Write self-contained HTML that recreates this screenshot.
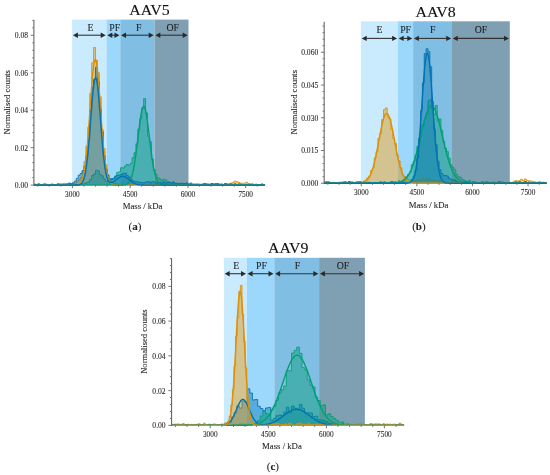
<!DOCTYPE html>
<html><head><meta charset="utf-8"><title>AAV mass photometry</title>
<style>html,body{margin:0;padding:0;background:#fff;}body{width:550px;height:475px;overflow:hidden;}svg{display:block;}</style>
</head><body>
<svg width="550" height="475" viewBox="0 0 550 475" font-family="'Liberation Serif', 'DejaVu Serif', serif">
<style>.t{fill:#1e1e1e;stroke:#1e1e1e;stroke-width:0.08px;}.tt{fill:#111;stroke:#111;stroke-width:0.12px;}</style>
<rect width="550" height="475" fill="#fff"/>
<rect x="72.1" y="19.6" width="34.4" height="165.5" fill="#caebfd"/>
<rect x="106.5" y="19.6" width="13.75" height="165.5" fill="#9bd8fc"/>
<rect x="120.25" y="19.6" width="34.25" height="165.5" fill="#80bee3"/>
<rect x="154.5" y="19.6" width="34" height="165.5" fill="#7f9fb3"/>
<path d="M33.9,185.1V185.08H35.83V184.64H37.75V184.49H39.68V184.94H41.6V184.48H43.53V184.91H45.45V185.07H47.38V184.95H49.3V184.86H51.23V183.85H53.16V185.07H55.08V185.08H57.01V184.61H58.93V183.67H60.86V183.8H62.78V184.23H64.71V184.86H66.63V183.76H68.56V183.81H70.48V184.1H72.41V183.47H74.34V183.26H76.26V181H78.19V179.81H80.11V177.32H82.04V171.23H83.96V161.4H85.89V146.25H87.81V127.03H89.74V93.48H91.66V62.8H93.59V47.51H95.52V60.05H97.44V72.6H99.37V96.84H101.29V129.46H103.22V148.77H105.14V164.57H107.07V174.72H108.99V180.41H110.92V181.61H112.85V183.48H114.77V183.8H116.7V184H118.62V184.43H120.55V184.85H122.47V183.58H124.4V185.04H126.32V184.91H128.25V184.64H130.17V185.09H132.1V185.06H134.03V184.14H135.95V184.18H137.88V184.49H139.8V183.88H141.73V184.25H143.65V184.97H145.58V184.48H147.5V184.93H149.43V184.26H151.36V184.88H153.28V185.06H155.21V183.95H157.13V184.39H159.06V184.27H160.98V184.63H162.91V184.18H164.83V184.8H166.76V184.62H168.69V185.09H170.61V184.64H172.54V184.11H174.46V184.35H176.39V184.13H178.31V184.73H180.24V183.94H182.16V185.08H184.09V183.95H186.01V184.89H187.94V185.09H189.87V184.53H191.79V184.79H193.72V184.83H195.64V184.01H197.57V185.07H199.49V184.53H201.42V184.84H203.34V184.68H205.27V184.73H207.19V185.07H209.12V184.71H211.05V183.99H212.97V185.06H214.9V185.1H216.82V185.09H218.75V184.78H220.67V183.67H222.6V185.07H224.52V183.52H226.45V184.35H228.38V184.21H230.3V183.13H232.23V182.42H234.15V181.1H236.08V181.7H238V182.5H239.93V183.27H241.85V183.15H243.78V183.29H245.7V182.31H247.63V183.5H249.56V184.12H251.48V183.68H253.41V185.09H255.33V185.06H257.26V184.9H259.18V184.71H261.11V185.09H263.03V185.1H264.96V185.1" fill="#de8f05" fill-opacity="0.44" stroke="#de8f05" stroke-width="0.85"/>
<path d="M33.9,185.1V184.12H35.83V185.08H37.75V183.68H39.68V185.03H41.6V184.96H43.53V184.59H45.45V184.96H47.38V184.88H49.3V185.08H51.23V184.87H53.16V185.1H55.08V185.02H57.01V183.86H58.93V184.98H60.86V184.99H62.78V184.41H64.71V183.93H66.63V184.97H68.56V184.89H70.48V184.34H72.41V184.16H74.34V184.54H76.26V185.05H78.19V185.03H80.11V184.17H82.04V184.15H83.96V183.35H85.89V182.64H87.81V182.15H89.74V179.54H91.66V175.54H93.59V173.99H95.52V170.26H97.44V170.78H99.37V174.23H101.29V175.74H103.22V178.77H105.14V181.26H107.07V181.3H108.99V180.22H110.92V179.11H112.85V178.26H114.77V176.14H116.7V172.45H118.62V171.88H120.55V167.73H122.47V167.98H124.4V166.02H126.32V164.46H128.25V165.29H130.17V163.43H132.1V157.79H134.03V152.73H135.95V143.79H137.88V129.02H139.8V118.96H141.73V107.88H143.65V98.61H145.58V113.03H147.5V136.16H149.43V141.64H151.36V159.03H153.28V169.7H155.21V174.25H157.13V177.79H159.06V178.91H160.98V180.33H162.91V179.33H164.83V179.78H166.76V181.59H168.69V181.99H170.61V182.66H172.54V181.83H174.46V183.71H176.39V183.02H178.31V183.82H180.24V183.17H182.16V184.7H184.09V183.58H186.01V184.08H187.94V184.53H189.87V184.31H191.79V184.3H193.72V184.79H195.64V184.49H197.57V185.02H199.49V185.1H201.42V184.41H203.34V184.76H205.27V183.87H207.19V185H209.12V184.1H211.05V183.64H212.97V183.89H214.9V183.71H216.82V185.06H218.75V185.06H220.67V185.02H222.6V184.9H224.52V185.08H226.45V185.07H228.38V185.1H230.3V183.8H232.23V184.9H234.15V184.51H236.08V184.79H238V184.27H239.93V184.13H241.85V184.88H243.78V184.67H245.7V185.09H247.63V184.98H249.56V185.03H251.48V184.96H253.41V184.94H255.33V184.6H257.26V184.93H259.18V184.94H261.11V184.07H263.03V185.1H264.96V185.1" fill="#029e73" fill-opacity="0.44" stroke="#029e73" stroke-width="0.85"/>
<path d="M33.9,185.1V184.99H35.83V185H37.75V184.92H39.68V184.95H41.6V184.63H43.53V183.85H45.45V184.18H47.38V184.88H49.3V184.94H51.23V184.89H53.16V184.61H55.08V184.65H57.01V184.15H58.93V184.76H60.86V184.68H62.78V184H64.71V184.18H66.63V184.12H68.56V182.94H70.48V183.65H72.41V182.75H74.34V181.13H76.26V178.41H78.19V175.31H80.11V173.52H82.04V170.63H83.96V165.98H85.89V155.78H87.81V139.11H89.74V110.36H91.66V86.98H93.59V79.4H95.52V67.3H97.44V82.18H99.37V109.26H101.29V131.74H103.22V155.68H105.14V168.82H107.07V175.18H108.99V178.73H110.92V178.69H112.85V178.54H114.77V176.23H116.7V175.49H118.62V174.89H120.55V174.29H122.47V173.37H124.4V173.29H126.32V175.4H128.25V176.97H130.17V179.66H132.1V180.88H134.03V181.67H135.95V181.73H137.88V182.07H139.8V182.48H141.73V182.81H143.65V182.66H145.58V181.95H147.5V181.63H149.43V182.85H151.36V181.75H153.28V181.8H155.21V182.87H157.13V182.81H159.06V182.58H160.98V183.1H162.91V181.83H164.83V183.25H166.76V182.6H168.69V182.52H170.61V183.26H172.54V182.28H174.46V183.42H176.39V183.65H178.31V183.6H180.24V183.51H182.16V183.21H184.09V183.69H186.01V182.94H187.94V183.97H189.87V183.02H191.79V184.12H193.72V184.08H195.64V184.23H197.57V184H199.49V184.28H201.42V184.24H203.34V183.39H205.27V184.06H207.19V184.07H209.12V184.43H211.05V183.71H212.97V184.32H214.9V183.92H216.82V183.5H218.75V184.19H220.67V184.54H222.6V184.72H224.52V183.62H226.45V184.03H228.38V183.96H230.3V184.87H232.23V184.66H234.15V183.81H236.08V184.88H238V184H239.93V184.59H241.85V184.94H243.78V184.81H245.7V185.03H247.63V184.36H249.56V184.27H251.48V185.05H253.41V184.93H255.33V184.18H257.26V185.01H259.18V184.65H261.11V184.11H263.03V184.59H264.96V185.1" fill="#0173b2" fill-opacity="0.44" stroke="#0173b2" stroke-width="0.85"/>
<path d="M33.9,185.1L34.48,185.1L35.06,185.1L35.64,185.1L36.22,185.1L36.8,185.1L37.37,185.1L37.95,185.1L38.53,185.1L39.11,185.1L39.69,185.1L40.27,185.1L40.85,185.1L41.43,185.1L42.01,185.1L42.59,185.1L43.17,185.1L43.74,185.1L44.32,185.1L44.9,185.1L45.48,185.1L46.06,185.1L46.64,185.1L47.22,185.1L47.8,185.1L48.38,185.1L48.96,185.1L49.54,185.1L50.11,185.1L50.69,185.1L51.27,185.1L51.85,185.1L52.43,185.1L53.01,185.1L53.59,185.1L54.17,185.1L54.75,185.1L55.33,185.1L55.91,185.1L56.48,185.1L57.06,185.1L57.64,185.1L58.22,185.1L58.8,185.1L59.38,185.1L59.96,185.1L60.54,185.1L61.12,185.1L61.7,185.1L62.28,185.1L62.85,185.1L63.43,185.1L64.01,185.1L64.59,185.1L65.17,185.1L65.75,185.1L66.33,185.1L66.91,185.1L67.49,185.1L68.07,185.1L68.65,185.1L69.22,185.1L69.8,185.1L70.38,185.1L70.96,185.1L71.54,185.09L72.12,185.09L72.7,185.09L73.28,185.08L73.86,185.06L74.44,185.05L75.02,185.02L75.6,184.98L76.17,184.91L76.75,184.83L77.33,184.7L77.91,184.52L78.49,184.28L79.07,183.95L79.65,183.5L80.23,182.9L80.81,182.12L81.39,181.1L81.97,179.81L82.54,178.17L83.12,176.14L83.7,173.66L84.28,170.65L84.86,167.07L85.44,162.88L86.02,158.03L86.6,152.52L87.18,146.35L87.76,139.56L88.34,132.21L88.91,124.4L89.49,116.28L90.07,107.99L90.65,99.72L91.23,91.7L91.81,84.13L92.39,77.24L92.97,71.25L93.55,66.35L94.13,62.71L94.71,60.46L95.28,59.68L95.86,60.38L96.44,62.56L97.02,66.12L97.6,70.95L98.18,76.89L98.76,83.73L99.34,91.27L99.92,99.28L100.5,107.54L101.08,115.83L101.65,123.97L102.23,131.8L102.81,139.17L103.39,146L103.97,152.2L104.55,157.75L105.13,162.63L105.71,166.86L106.29,170.47L106.87,173.51L107.45,176.02L108.02,178.07L108.6,179.73L109.18,181.04L109.76,182.07L110.34,182.86L110.92,183.47L111.5,183.93L112.08,184.26L112.66,184.51L113.24,184.69L113.82,184.82L114.39,184.91L114.97,184.97L115.55,185.02L116.13,185.04L116.71,185.06L117.29,185.08L117.87,185.09L118.45,185.09L119.03,185.09L119.61,185.1L120.19,185.1L120.76,185.1L121.34,185.1L121.92,185.1L122.5,185.1L123.08,185.1L123.66,185.1L124.24,185.1L124.82,185.1L125.4,185.1L125.98,185.1L126.56,185.1L127.13,185.1L127.71,185.1L128.29,185.1L128.87,185.1L129.45,185.1L130.03,185.1L130.61,185.1L131.19,185.1L131.77,185.1L132.35,185.1L132.93,185.1L133.5,185.1L134.08,185.1L134.66,185.1L135.24,185.1L135.82,185.1L136.4,185.1L136.98,185.1L137.56,185.1L138.14,185.1L138.72,185.1L139.3,185.1L139.87,185.1L140.45,185.1L141.03,185.1L141.61,185.1L142.19,185.1L142.77,185.1L143.35,185.1L143.93,185.1L144.51,185.1L145.09,185.1L145.67,185.1L146.24,185.1L146.82,185.1L147.4,185.1L147.98,185.1L148.56,185.1L149.14,185.1L149.72,185.1L150.3,185.1L150.88,185.1L151.46,185.1L152.04,185.1L152.62,185.1L153.19,185.1L153.77,185.1L154.35,185.1L154.93,185.1L155.51,185.1L156.09,185.1L156.67,185.1L157.25,185.1L157.83,185.1L158.41,185.1L158.99,185.1L159.56,185.1L160.14,185.1L160.72,185.1L161.3,185.1L161.88,185.1L162.46,185.1L163.04,185.1L163.62,185.1L164.2,185.1L164.78,185.1L165.36,185.1L165.93,185.1L166.51,185.1L167.09,185.1L167.67,185.1L168.25,185.1L168.83,185.1L169.41,185.1L169.99,185.1L170.57,185.1L171.15,185.1L171.73,185.1L172.3,185.1L172.88,185.1L173.46,185.1L174.04,185.1L174.62,185.1L175.2,185.1L175.78,185.1L176.36,185.1L176.94,185.1L177.52,185.1L178.1,185.1L178.67,185.1L179.25,185.1L179.83,185.1L180.41,185.1L180.99,185.1L181.57,185.1L182.15,185.1L182.73,185.1L183.31,185.1L183.89,185.1L184.47,185.1L185.04,185.1L185.62,185.1L186.2,185.1L186.78,185.1L187.36,185.1L187.94,185.1L188.52,185.1L189.1,185.1L189.68,185.1L190.26,185.1L190.84,185.1L191.41,185.1L191.99,185.1L192.57,185.1L193.15,185.1L193.73,185.1L194.31,185.1L194.89,185.1L195.47,185.1L196.05,185.1L196.63,185.1L197.21,185.1L197.78,185.1L198.36,185.1L198.94,185.1L199.52,185.1L200.1,185.1L200.68,185.1L201.26,185.1L201.84,185.1L202.42,185.1L203,185.1L203.58,185.1L204.15,185.1L204.73,185.1L205.31,185.1L205.89,185.1L206.47,185.1L207.05,185.1L207.63,185.1L208.21,185.1L208.79,185.1L209.37,185.1L209.95,185.1L210.52,185.1L211.1,185.1L211.68,185.1L212.26,185.1L212.84,185.1L213.42,185.1L214,185.1L214.58,185.1L215.16,185.1L215.74,185.1L216.32,185.1L216.89,185.1L217.47,185.1L218.05,185.1L218.63,185.1L219.21,185.1L219.79,185.1L220.37,185.1L220.95,185.1L221.53,185.1L222.11,185.1L222.69,185.1L223.26,185.1L223.84,185.1L224.42,185.1L225,185.1L225.58,185.1L226.16,185.1L226.74,185.1L227.32,185.1L227.9,185.1L228.48,185.1L229.06,185.1L229.64,185.1L230.21,185.1L230.79,185.1L231.37,185.1L231.95,185.1L232.53,185.1L233.11,185.1L233.69,185.1L234.27,185.1L234.85,185.1L235.43,185.1L236.01,185.1L236.58,185.1L237.16,185.1L237.74,185.1L238.32,185.1L238.9,185.1L239.48,185.1L240.06,185.1L240.64,185.1L241.22,185.1L241.8,185.1L242.38,185.1L242.95,185.1L243.53,185.1L244.11,185.1L244.69,185.1L245.27,185.1L245.85,185.1L246.43,185.1L247.01,185.1L247.59,185.1L248.17,185.1L248.75,185.1L249.32,185.1L249.9,185.1L250.48,185.1L251.06,185.1L251.64,185.1L252.22,185.1L252.8,185.1L253.38,185.1L253.96,185.1L254.54,185.1L255.12,185.1L255.69,185.1L256.27,185.1L256.85,185.1L257.43,185.1L258.01,185.1L258.59,185.1L259.17,185.1L259.75,185.1L260.33,185.1L260.91,185.1L261.49,185.1L262.06,185.1L262.64,185.1L263.22,185.1L263.8,185.1L264.38,185.1L264.96,185.1" fill="none" stroke="#de8f05" stroke-width="1.4" stroke-linejoin="round"/>
<path d="M33.9,185.1L34.48,185.1L35.06,185.1L35.64,185.1L36.22,185.1L36.8,185.1L37.37,185.1L37.95,185.1L38.53,185.1L39.11,185.1L39.69,185.1L40.27,185.1L40.85,185.1L41.43,185.1L42.01,185.1L42.59,185.1L43.17,185.1L43.74,185.1L44.32,185.1L44.9,185.1L45.48,185.1L46.06,185.1L46.64,185.1L47.22,185.1L47.8,185.1L48.38,185.1L48.96,185.1L49.54,185.1L50.11,185.1L50.69,185.1L51.27,185.1L51.85,185.1L52.43,185.1L53.01,185.1L53.59,185.1L54.17,185.1L54.75,185.1L55.33,185.1L55.91,185.1L56.48,185.1L57.06,185.1L57.64,185.1L58.22,185.1L58.8,185.1L59.38,185.1L59.96,185.1L60.54,185.1L61.12,185.1L61.7,185.1L62.28,185.1L62.85,185.1L63.43,185.1L64.01,185.1L64.59,185.1L65.17,185.1L65.75,185.1L66.33,185.1L66.91,185.1L67.49,185.1L68.07,185.1L68.65,185.1L69.22,185.1L69.8,185.1L70.38,185.1L70.96,185.1L71.54,185.1L72.12,185.1L72.7,185.1L73.28,185.1L73.86,185.1L74.44,185.1L75.02,185.1L75.6,185.1L76.17,185.1L76.75,185.1L77.33,185.1L77.91,185.1L78.49,185.1L79.07,185.1L79.65,185.1L80.23,185.1L80.81,185.1L81.39,185.1L81.97,185.1L82.54,185.1L83.12,185.1L83.7,185.1L84.28,185.1L84.86,185.1L85.44,185.1L86.02,185.1L86.6,185.1L87.18,185.1L87.76,185.1L88.34,185.1L88.91,185.1L89.49,185.1L90.07,185.1L90.65,185.1L91.23,185.1L91.81,185.1L92.39,185.1L92.97,185.1L93.55,185.1L94.13,185.1L94.71,185.1L95.28,185.1L95.86,185.1L96.44,185.1L97.02,185.1L97.6,185.1L98.18,185.1L98.76,185.1L99.34,185.1L99.92,185.1L100.5,185.1L101.08,185.1L101.65,185.1L102.23,185.1L102.81,185.1L103.39,185.1L103.97,185.1L104.55,185.1L105.13,185.1L105.71,185.1L106.29,185.1L106.87,185.1L107.45,185.1L108.02,185.1L108.6,185.1L109.18,185.1L109.76,185.1L110.34,185.1L110.92,185.1L111.5,185.1L112.08,185.1L112.66,185.1L113.24,185.1L113.82,185.1L114.39,185.1L114.97,185.1L115.55,185.1L116.13,185.1L116.71,185.1L117.29,185.1L117.87,185.1L118.45,185.1L119.03,185.09L119.61,185.09L120.19,185.08L120.76,185.08L121.34,185.06L121.92,185.05L122.5,185.02L123.08,184.99L123.66,184.94L124.24,184.87L124.82,184.77L125.4,184.65L125.98,184.47L126.56,184.25L127.13,183.95L127.71,183.56L128.29,183.06L128.87,182.43L129.45,181.64L130.03,180.67L130.61,179.47L131.19,178.03L131.77,176.31L132.35,174.28L132.93,171.93L133.5,169.22L134.08,166.15L134.66,162.73L135.24,158.95L135.82,154.85L136.4,150.47L136.98,145.86L137.56,141.1L138.14,136.26L138.72,131.45L139.3,126.77L139.87,122.33L140.45,118.25L141.03,114.63L141.61,111.58L142.19,109.18L142.77,107.51L143.35,106.62L143.93,106.54L144.51,107.26L145.09,108.77L145.67,111.02L146.24,113.93L146.82,117.44L147.4,121.43L147.98,125.81L148.56,130.45L149.14,135.24L149.72,140.08L150.3,144.87L150.88,149.52L151.46,153.95L152.04,158.11L152.62,161.96L153.19,165.46L153.77,168.6L154.35,171.39L154.93,173.82L155.51,175.91L156.09,177.69L156.67,179.19L157.25,180.44L157.83,181.45L158.41,182.28L158.99,182.94L159.56,183.47L160.14,183.87L160.72,184.19L161.3,184.43L161.88,184.61L162.46,184.75L163.04,184.85L163.62,184.92L164.2,184.98L164.78,185.02L165.36,185.04L165.93,185.06L166.51,185.07L167.09,185.08L167.67,185.09L168.25,185.09L168.83,185.1L169.41,185.1L169.99,185.1L170.57,185.1L171.15,185.1L171.73,185.1L172.3,185.1L172.88,185.1L173.46,185.1L174.04,185.1L174.62,185.1L175.2,185.1L175.78,185.1L176.36,185.1L176.94,185.1L177.52,185.1L178.1,185.1L178.67,185.1L179.25,185.1L179.83,185.1L180.41,185.1L180.99,185.1L181.57,185.1L182.15,185.1L182.73,185.1L183.31,185.1L183.89,185.1L184.47,185.1L185.04,185.1L185.62,185.1L186.2,185.1L186.78,185.1L187.36,185.1L187.94,185.1L188.52,185.1L189.1,185.1L189.68,185.1L190.26,185.1L190.84,185.1L191.41,185.1L191.99,185.1L192.57,185.1L193.15,185.1L193.73,185.1L194.31,185.1L194.89,185.1L195.47,185.1L196.05,185.1L196.63,185.1L197.21,185.1L197.78,185.1L198.36,185.1L198.94,185.1L199.52,185.1L200.1,185.1L200.68,185.1L201.26,185.1L201.84,185.1L202.42,185.1L203,185.1L203.58,185.1L204.15,185.1L204.73,185.1L205.31,185.1L205.89,185.1L206.47,185.1L207.05,185.1L207.63,185.1L208.21,185.1L208.79,185.1L209.37,185.1L209.95,185.1L210.52,185.1L211.1,185.1L211.68,185.1L212.26,185.1L212.84,185.1L213.42,185.1L214,185.1L214.58,185.1L215.16,185.1L215.74,185.1L216.32,185.1L216.89,185.1L217.47,185.1L218.05,185.1L218.63,185.1L219.21,185.1L219.79,185.1L220.37,185.1L220.95,185.1L221.53,185.1L222.11,185.1L222.69,185.1L223.26,185.1L223.84,185.1L224.42,185.1L225,185.1L225.58,185.1L226.16,185.1L226.74,185.1L227.32,185.1L227.9,185.1L228.48,185.1L229.06,185.1L229.64,185.1L230.21,185.1L230.79,185.1L231.37,185.1L231.95,185.1L232.53,185.1L233.11,185.1L233.69,185.1L234.27,185.1L234.85,185.1L235.43,185.1L236.01,185.1L236.58,185.1L237.16,185.1L237.74,185.1L238.32,185.1L238.9,185.1L239.48,185.1L240.06,185.1L240.64,185.1L241.22,185.1L241.8,185.1L242.38,185.1L242.95,185.1L243.53,185.1L244.11,185.1L244.69,185.1L245.27,185.1L245.85,185.1L246.43,185.1L247.01,185.1L247.59,185.1L248.17,185.1L248.75,185.1L249.32,185.1L249.9,185.1L250.48,185.1L251.06,185.1L251.64,185.1L252.22,185.1L252.8,185.1L253.38,185.1L253.96,185.1L254.54,185.1L255.12,185.1L255.69,185.1L256.27,185.1L256.85,185.1L257.43,185.1L258.01,185.1L258.59,185.1L259.17,185.1L259.75,185.1L260.33,185.1L260.91,185.1L261.49,185.1L262.06,185.1L262.64,185.1L263.22,185.1L263.8,185.1L264.38,185.1L264.96,185.1" fill="none" stroke="#029e73" stroke-width="1.4" stroke-linejoin="round"/>
<path d="M33.9,185.1L34.48,185.1L35.06,185.1L35.64,185.1L36.22,185.1L36.8,185.1L37.37,185.1L37.95,185.1L38.53,185.1L39.11,185.1L39.69,185.1L40.27,185.1L40.85,185.1L41.43,185.1L42.01,185.1L42.59,185.1L43.17,185.1L43.74,185.1L44.32,185.1L44.9,185.1L45.48,185.1L46.06,185.1L46.64,185.1L47.22,185.1L47.8,185.1L48.38,185.1L48.96,185.1L49.54,185.1L50.11,185.1L50.69,185.1L51.27,185.1L51.85,185.1L52.43,185.1L53.01,185.1L53.59,185.1L54.17,185.1L54.75,185.1L55.33,185.1L55.91,185.1L56.48,185.1L57.06,185.1L57.64,185.1L58.22,185.1L58.8,185.1L59.38,185.1L59.96,185.1L60.54,185.1L61.12,185.1L61.7,185.1L62.28,185.1L62.85,185.1L63.43,185.1L64.01,185.1L64.59,185.1L65.17,185.1L65.75,185.1L66.33,185.1L66.91,185.1L67.49,185.1L68.07,185.1L68.65,185.1L69.22,185.1L69.8,185.1L70.38,185.1L70.96,185.1L71.54,185.1L72.12,185.1L72.7,185.1L73.28,185.1L73.86,185.09L74.44,185.09L75.02,185.08L75.6,185.07L76.17,185.06L76.75,185.03L77.33,185L77.91,184.94L78.49,184.86L79.07,184.74L79.65,184.56L80.23,184.32L80.81,183.97L81.39,183.5L81.97,182.86L82.54,182.01L83.12,180.9L83.7,179.46L84.28,177.64L84.86,175.37L85.44,172.58L86.02,169.22L86.6,165.22L87.18,160.58L87.76,155.26L88.34,149.3L88.91,142.74L89.49,135.67L90.07,128.23L90.65,120.57L91.23,112.9L91.81,105.43L92.39,98.41L92.97,92.08L93.55,86.68L94.13,82.4L94.71,79.42L95.28,77.87L95.86,77.8L96.44,79.22L97.02,82.07L97.6,86.24L98.18,91.55L98.76,97.8L99.34,104.76L99.92,112.19L100.5,119.85L101.08,127.51L101.65,134.97L102.23,142.06L102.81,148.65L103.39,154.64L103.97,159.99L104.55,164.66L105.13,168.65L105.71,172.01L106.29,174.78L106.87,177L107.45,178.76L108.02,180.1L108.6,181.09L109.18,181.78L109.76,182.24L110.34,182.49L110.92,182.59L111.5,182.55L112.08,182.41L112.66,182.18L113.24,181.89L113.82,181.54L114.39,181.14L114.97,180.72L115.55,180.27L116.13,179.8L116.71,179.33L117.29,178.87L117.87,178.42L118.45,177.99L119.03,177.6L119.61,177.24L120.19,176.94L120.76,176.68L121.34,176.49L121.92,176.36L122.5,176.31L123.08,176.32L123.66,176.4L124.24,176.54L124.82,176.76L125.4,177.03L125.98,177.35L126.56,177.72L127.13,178.13L127.71,178.57L128.29,179.02L128.87,179.49L129.45,179.97L130.03,180.44L130.61,180.9L131.19,181.35L131.77,181.77L132.35,182.17L132.93,182.55L133.5,182.89L134.08,183.2L134.66,183.48L135.24,183.73L135.82,183.95L136.4,184.15L136.98,184.31L137.56,184.45L138.14,184.58L138.72,184.68L139.3,184.76L139.87,184.83L140.45,184.89L141.03,184.94L141.61,184.97L142.19,185L142.77,185.03L143.35,185.04L143.93,185.06L144.51,185.07L145.09,185.08L145.67,185.08L146.24,185.09L146.82,185.09L147.4,185.09L147.98,185.1L148.56,185.1L149.14,185.1L149.72,185.1L150.3,185.1L150.88,185.1L151.46,185.1L152.04,185.1L152.62,185.1L153.19,185.1L153.77,185.1L154.35,185.1L154.93,185.1L155.51,185.1L156.09,185.1L156.67,185.1L157.25,185.1L157.83,185.1L158.41,185.1L158.99,185.1L159.56,185.1L160.14,185.1L160.72,185.1L161.3,185.1L161.88,185.1L162.46,185.1L163.04,185.1L163.62,185.1L164.2,185.1L164.78,185.1L165.36,185.1L165.93,185.1L166.51,185.1L167.09,185.1L167.67,185.1L168.25,185.1L168.83,185.1L169.41,185.1L169.99,185.1L170.57,185.1L171.15,185.1L171.73,185.1L172.3,185.1L172.88,185.1L173.46,185.1L174.04,185.1L174.62,185.1L175.2,185.1L175.78,185.1L176.36,185.1L176.94,185.1L177.52,185.1L178.1,185.1L178.67,185.1L179.25,185.1L179.83,185.1L180.41,185.1L180.99,185.1L181.57,185.1L182.15,185.1L182.73,185.1L183.31,185.1L183.89,185.1L184.47,185.1L185.04,185.1L185.62,185.1L186.2,185.1L186.78,185.1L187.36,185.1L187.94,185.1L188.52,185.1L189.1,185.1L189.68,185.1L190.26,185.1L190.84,185.1L191.41,185.1L191.99,185.1L192.57,185.1L193.15,185.1L193.73,185.1L194.31,185.1L194.89,185.1L195.47,185.1L196.05,185.1L196.63,185.1L197.21,185.1L197.78,185.1L198.36,185.1L198.94,185.1L199.52,185.1L200.1,185.1L200.68,185.1L201.26,185.1L201.84,185.1L202.42,185.1L203,185.1L203.58,185.1L204.15,185.1L204.73,185.1L205.31,185.1L205.89,185.1L206.47,185.1L207.05,185.1L207.63,185.1L208.21,185.1L208.79,185.1L209.37,185.1L209.95,185.1L210.52,185.1L211.1,185.1L211.68,185.1L212.26,185.1L212.84,185.1L213.42,185.1L214,185.1L214.58,185.1L215.16,185.1L215.74,185.1L216.32,185.1L216.89,185.1L217.47,185.1L218.05,185.1L218.63,185.1L219.21,185.1L219.79,185.1L220.37,185.1L220.95,185.1L221.53,185.1L222.11,185.1L222.69,185.1L223.26,185.1L223.84,185.1L224.42,185.1L225,185.1L225.58,185.1L226.16,185.1L226.74,185.1L227.32,185.1L227.9,185.1L228.48,185.1L229.06,185.1L229.64,185.1L230.21,185.1L230.79,185.1L231.37,185.1L231.95,185.1L232.53,185.1L233.11,185.1L233.69,185.1L234.27,185.1L234.85,185.1L235.43,185.1L236.01,185.1L236.58,185.1L237.16,185.1L237.74,185.1L238.32,185.1L238.9,185.1L239.48,185.1L240.06,185.1L240.64,185.1L241.22,185.1L241.8,185.1L242.38,185.1L242.95,185.1L243.53,185.1L244.11,185.1L244.69,185.1L245.27,185.1L245.85,185.1L246.43,185.1L247.01,185.1L247.59,185.1L248.17,185.1L248.75,185.1L249.32,185.1L249.9,185.1L250.48,185.1L251.06,185.1L251.64,185.1L252.22,185.1L252.8,185.1L253.38,185.1L253.96,185.1L254.54,185.1L255.12,185.1L255.69,185.1L256.27,185.1L256.85,185.1L257.43,185.1L258.01,185.1L258.59,185.1L259.17,185.1L259.75,185.1L260.33,185.1L260.91,185.1L261.49,185.1L262.06,185.1L262.64,185.1L263.22,185.1L263.8,185.1L264.38,185.1L264.96,185.1" fill="none" stroke="#0173b2" stroke-width="1.4" stroke-linejoin="round"/>
<line x1="77.4" y1="35.2" x2="101.2" y2="35.2" stroke="#333" stroke-width="1.1"/>
<path d="M72.9,35.2L77.9,32.5V37.9Z M105.7,35.2L100.7,32.5V37.9Z" fill="#2a2a2a"/>
<line x1="111.8" y1="35.2" x2="114.95" y2="35.2" stroke="#333" stroke-width="1.1"/>
<path d="M107.3,35.2L112.3,32.5V37.9Z M119.45,35.2L114.45,32.5V37.9Z" fill="#2a2a2a"/>
<line x1="125.55" y1="35.2" x2="149.2" y2="35.2" stroke="#333" stroke-width="1.1"/>
<path d="M121.05,35.2L126.05,32.5V37.9Z M153.7,35.2L148.7,32.5V37.9Z" fill="#2a2a2a"/>
<line x1="159.8" y1="35.2" x2="183.2" y2="35.2" stroke="#333" stroke-width="1.1"/>
<path d="M155.3,35.2L160.3,32.5V37.9Z M187.7,35.2L182.7,32.5V37.9Z" fill="#2a2a2a"/>
<text x="90.6" y="30.5" font-size="9.8" text-anchor="middle" class="t">E</text>
<text x="114.67" y="30.5" font-size="9.8" text-anchor="middle" class="t">PF</text>
<text x="138.68" y="30.5" font-size="9.8" text-anchor="middle" class="t">F</text>
<text x="172.8" y="30.5" font-size="9.8" text-anchor="middle" class="t">OF</text>
<line x1="33.9" y1="20" x2="33.9" y2="185.1" stroke="#666666" stroke-width="1.1"/>
<line x1="30.7" y1="185.1" x2="33.9" y2="185.1" stroke="#666666" stroke-width="0.9"/>
<text x="28" y="188" font-size="7.6" text-anchor="end" class="t">0.00</text>
<line x1="32.3" y1="177.61" x2="33.9" y2="177.61" stroke="#666666" stroke-width="0.9"/>
<line x1="32.3" y1="170.12" x2="33.9" y2="170.12" stroke="#666666" stroke-width="0.9"/>
<line x1="32.3" y1="162.64" x2="33.9" y2="162.64" stroke="#666666" stroke-width="0.9"/>
<line x1="32.3" y1="155.15" x2="33.9" y2="155.15" stroke="#666666" stroke-width="0.9"/>
<line x1="30.7" y1="147.66" x2="33.9" y2="147.66" stroke="#666666" stroke-width="0.9"/>
<text x="28" y="150.56" font-size="7.6" text-anchor="end" class="t">0.02</text>
<line x1="32.3" y1="140.17" x2="33.9" y2="140.17" stroke="#666666" stroke-width="0.9"/>
<line x1="32.3" y1="132.68" x2="33.9" y2="132.68" stroke="#666666" stroke-width="0.9"/>
<line x1="32.3" y1="125.2" x2="33.9" y2="125.2" stroke="#666666" stroke-width="0.9"/>
<line x1="32.3" y1="117.71" x2="33.9" y2="117.71" stroke="#666666" stroke-width="0.9"/>
<line x1="30.7" y1="110.22" x2="33.9" y2="110.22" stroke="#666666" stroke-width="0.9"/>
<text x="28" y="113.12" font-size="7.6" text-anchor="end" class="t">0.04</text>
<line x1="32.3" y1="102.73" x2="33.9" y2="102.73" stroke="#666666" stroke-width="0.9"/>
<line x1="32.3" y1="95.24" x2="33.9" y2="95.24" stroke="#666666" stroke-width="0.9"/>
<line x1="32.3" y1="87.76" x2="33.9" y2="87.76" stroke="#666666" stroke-width="0.9"/>
<line x1="32.3" y1="80.27" x2="33.9" y2="80.27" stroke="#666666" stroke-width="0.9"/>
<line x1="30.7" y1="72.78" x2="33.9" y2="72.78" stroke="#666666" stroke-width="0.9"/>
<text x="28" y="75.68" font-size="7.6" text-anchor="end" class="t">0.06</text>
<line x1="32.3" y1="65.29" x2="33.9" y2="65.29" stroke="#666666" stroke-width="0.9"/>
<line x1="32.3" y1="57.8" x2="33.9" y2="57.8" stroke="#666666" stroke-width="0.9"/>
<line x1="32.3" y1="50.32" x2="33.9" y2="50.32" stroke="#666666" stroke-width="0.9"/>
<line x1="32.3" y1="42.83" x2="33.9" y2="42.83" stroke="#666666" stroke-width="0.9"/>
<line x1="30.7" y1="35.34" x2="33.9" y2="35.34" stroke="#666666" stroke-width="0.9"/>
<text x="28" y="38.24" font-size="7.6" text-anchor="end" class="t">0.08</text>
<line x1="32.3" y1="27.85" x2="33.9" y2="27.85" stroke="#666666" stroke-width="0.9"/>
<line x1="32.3" y1="20.36" x2="33.9" y2="20.36" stroke="#666666" stroke-width="0.9"/>
<line x1="37.75" y1="185.1" x2="37.75" y2="186.7" stroke="#666666" stroke-width="0.9"/>
<line x1="49.3" y1="185.1" x2="49.3" y2="186.7" stroke="#666666" stroke-width="0.9"/>
<line x1="60.86" y1="185.1" x2="60.86" y2="186.7" stroke="#666666" stroke-width="0.9"/>
<line x1="72.41" y1="185.1" x2="72.41" y2="188.1" stroke="#666666" stroke-width="0.9"/>
<text x="72.41" y="196.5" font-size="7.6" text-anchor="middle" class="t" textLength="14.6" lengthAdjust="spacingAndGlyphs">3000</text>
<line x1="83.96" y1="185.1" x2="83.96" y2="186.7" stroke="#666666" stroke-width="0.9"/>
<line x1="95.52" y1="185.1" x2="95.52" y2="186.7" stroke="#666666" stroke-width="0.9"/>
<line x1="107.07" y1="185.1" x2="107.07" y2="186.7" stroke="#666666" stroke-width="0.9"/>
<line x1="118.62" y1="185.1" x2="118.62" y2="186.7" stroke="#666666" stroke-width="0.9"/>
<line x1="130.17" y1="185.1" x2="130.17" y2="188.1" stroke="#666666" stroke-width="0.9"/>
<text x="130.17" y="196.5" font-size="7.6" text-anchor="middle" class="t" textLength="14.6" lengthAdjust="spacingAndGlyphs">4500</text>
<line x1="141.73" y1="185.1" x2="141.73" y2="186.7" stroke="#666666" stroke-width="0.9"/>
<line x1="153.28" y1="185.1" x2="153.28" y2="186.7" stroke="#666666" stroke-width="0.9"/>
<line x1="164.83" y1="185.1" x2="164.83" y2="186.7" stroke="#666666" stroke-width="0.9"/>
<line x1="176.39" y1="185.1" x2="176.39" y2="186.7" stroke="#666666" stroke-width="0.9"/>
<line x1="187.94" y1="185.1" x2="187.94" y2="188.1" stroke="#666666" stroke-width="0.9"/>
<text x="187.94" y="196.5" font-size="7.6" text-anchor="middle" class="t" textLength="14.6" lengthAdjust="spacingAndGlyphs">6000</text>
<line x1="199.49" y1="185.1" x2="199.49" y2="186.7" stroke="#666666" stroke-width="0.9"/>
<line x1="211.05" y1="185.1" x2="211.05" y2="186.7" stroke="#666666" stroke-width="0.9"/>
<line x1="222.6" y1="185.1" x2="222.6" y2="186.7" stroke="#666666" stroke-width="0.9"/>
<line x1="234.15" y1="185.1" x2="234.15" y2="186.7" stroke="#666666" stroke-width="0.9"/>
<line x1="245.7" y1="185.1" x2="245.7" y2="188.1" stroke="#666666" stroke-width="0.9"/>
<text x="245.7" y="196.5" font-size="7.6" text-anchor="middle" class="t" textLength="14.6" lengthAdjust="spacingAndGlyphs">7500</text>
<line x1="257.26" y1="185.1" x2="257.26" y2="186.7" stroke="#666666" stroke-width="0.9"/>
<text x="142.5" y="208.6" font-size="8.2" text-anchor="middle" class="t" textLength="39.7" lengthAdjust="spacingAndGlyphs">Mass / kDa</text>
<text transform="translate(10.2,102.35) rotate(-90)" font-size="8.2" text-anchor="middle" class="t" textLength="64.5" lengthAdjust="spacingAndGlyphs">Normalised counts</text>
<text x="149.5" y="14.7" font-size="15.6" text-anchor="middle" class="tt" textLength="40.3" lengthAdjust="spacingAndGlyphs">AAV5</text>
<text x="134.9" y="230.3" font-size="11" text-anchor="middle" class="t">(<tspan font-weight="bold">a</tspan>)</text>
<rect x="360.9" y="21.3" width="37" height="161.96" fill="#caebfd"/>
<rect x="397.9" y="21.3" width="15.2" height="161.96" fill="#9bd8fc"/>
<rect x="413.1" y="21.3" width="38.9" height="161.96" fill="#80bee3"/>
<rect x="452" y="21.3" width="57.8" height="161.96" fill="#7f9fb3"/>
<path d="M324.17,183.26V181.97H326.02V183.06H327.88V182.16H329.73V182.98H331.58V182.64H333.44V182.31H335.29V182.82H337.15V182.43H339V182.41H340.85V183.26H342.71V183.26H344.56V183.22H346.41V183.18H348.27V183.19H350.12V183.25H351.97V183.17H353.83V182.61H355.68V181.84H357.53V182.93H359.39V182.76H361.24V182.41H363.1V181.24H364.95V179.96H366.8V177.85H368.66V175.93H370.51V170.6H372.36V167.96H374.22V157.8H376.07V151.6H377.92V138.48H379.78V133.66H381.63V119.44H383.48V109.68H385.34V107.93H387.19V117.1H389.05V118.91H390.9V129.27H392.75V138.52H394.61V143.52H396.46V155.2H398.31V160.77H400.17V167.82H402.02V174.81H403.87V176.45H405.73V178.59H407.58V179.82H409.43V180.23H411.29V180.8H413.14V180.15H415V180.5H416.85V179.58H418.7V179.56H420.56V179.67H422.41V178.35H424.26V178.87H426.12V178.42H427.97V179.46H429.82V179.68H431.68V179.8H433.53V180.58H435.38V180.89H437.24V181.13H439.09V180.44H440.95V181.92H442.8V181.3H444.65V182.37H446.51V182.64H448.36V182.75H450.21V182.12H452.07V182.6H453.92V182.58H455.77V182.79H457.63V183.06H459.48V182.8H461.34V181.74H463.19V183.17H465.04V182.31H466.9V183.14H468.75V183.19H470.6V183.07H472.46V183.24H474.31V181.73H476.16V183.03H478.02V183.21H479.87V183.26H481.72V183.25H483.58V183.18H485.43V182.96H487.29V182.63H489.14V181.58H490.99V181.87H492.85V183.16H494.7V182.6H496.55V181.77H498.41V183.23H500.26V181.96H502.11V182.93H503.97V182.08H505.82V182.89H507.67V182.27H509.53V182.33H511.38V182.52H513.24V181.19H515.09V180.72H516.94V181.08H518.8V180.61H520.65V179.22H522.5V180.73H524.36V178.97H526.21V180.36H528.06V180.86H529.92V180.9H531.77V181.6H533.62V181.9H535.48V182.26H537.33V182.64H539.19V182.31H541.04V182.62H542.89V183.1H544.75V183.12H546.6V183.26" fill="#de8f05" fill-opacity="0.44" stroke="#de8f05" stroke-width="0.85"/>
<path d="M324.17,183.26V182.16H326.02V181.64H327.88V181.8H329.73V182.92H331.58V183.25H333.44V183.05H335.29V182.78H337.15V183.01H339V182.33H340.85V182.3H342.71V181.86H344.56V182.88H346.41V183.16H348.27V181.81H350.12V181.89H351.97V183.23H353.83V183.18H355.68V182.5H357.53V182.08H359.39V181.65H361.24V183.26H363.1V183.2H364.95V182.95H366.8V182.73H368.66V182.2H370.51V182.72H372.36V182.79H374.22V183.16H376.07V182.52H377.92V182.67H379.78V181.7H381.63V183.19H383.48V183.23H385.34V183.03H387.19V183.04H389.05V182.84H390.9V183.1H392.75V182.2H394.61V181.73H396.46V182.67H398.31V180.83H400.17V181.75H402.02V180.29H403.87V178.89H405.73V176.98H407.58V174.51H409.43V172.18H411.29V164.75H413.14V161.49H415V155.09H416.85V146.54H418.7V142.17H420.56V126.39H422.41V124.72H424.26V118.9H426.12V114.08H427.97V100.72H429.82V99.63H431.68V101.6H433.53V114.46H435.38V105.4H437.24V121.03H439.09V119.05H440.95V130.45H442.8V141.27H444.65V148.2H446.51V151.56H448.36V158.14H450.21V164.89H452.07V167.54H453.92V169.72H455.77V174.37H457.63V176.7H459.48V177.34H461.34V179.35H463.19V180.2H465.04V181.13H466.9V181.42H468.75V180.51H470.6V182.7H472.46V181.67H474.31V181.96H476.16V182.5H478.02V182.68H479.87V182.76H481.72V183.22H483.58V182.69H485.43V181.55H487.29V182.33H489.14V182.88H490.99V182.92H492.85V181.94H494.7V183.26H496.55V183.19H498.41V181.66H500.26V182.51H502.11V182.06H503.97V182.76H505.82V183.26H507.67V182.76H509.53V182.57H511.38V183.25H513.24V182.86H515.09V181.71H516.94V183.25H518.8V183.26H520.65V183.24H522.5V182.45H524.36V181.87H526.21V183.22H528.06V182.01H529.92V183.17H531.77V182.75H533.62V182.24H535.48V183.24H537.33V182.86H539.19V181.95H541.04V183.04H542.89V182.15H544.75V182.9H546.6V183.26" fill="#029e73" fill-opacity="0.44" stroke="#029e73" stroke-width="0.85"/>
<path d="M324.17,183.26V183.26H326.02V182.89H327.88V182.51H329.73V182.84H331.58V183.24H333.44V182.8H335.29V183.25H337.15V183.25H339V183.06H340.85V183.21H342.71V182.82H344.56V181.7H346.41V183.18H348.27V181.55H350.12V183.05H351.97V182.04H353.83V182.78H355.68V182.2H357.53V181.95H359.39V182.02H361.24V183.22H363.1V181.87H364.95V183.23H366.8V182.32H368.66V183.26H370.51V183.1H372.36V183.23H374.22V182.59H376.07V183.09H377.92V182.7H379.78V183.18H381.63V182.98H383.48V181.84H385.34V182.64H387.19V182.85H389.05V182.34H390.9V181.54H392.75V183.07H394.61V183.24H396.46V183.16H398.31V183.22H400.17V182.97H402.02V182.29H403.87V182.21H405.73V183.16H407.58V182.93H409.43V182.23H411.29V179.38H413.14V176.33H415V170.69H416.85V157.89H418.7V138.19H420.56V110.6H422.41V82.89H424.26V53.67H426.12V48.76H427.97V51.59H429.82V66.81H431.68V108.61H433.53V129.22H435.38V144.82H437.24V161.17H439.09V169.62H440.95V173.55H442.8V175.53H444.65V175.51H446.51V176.07H448.36V178.35H450.21V179.26H452.07V180.14H453.92V179.96H455.77V181.4H457.63V182.39H459.48V182.84H461.34V183.04H463.19V182.16H465.04V181.81H466.9V183.2H468.75V182.11H470.6V183.25H472.46V182.04H474.31V182.4H476.16V182.87H478.02V182.86H479.87V183.18H481.72V181.75H483.58V183.13H485.43V183.14H487.29V182.22H489.14V182.68H490.99V182.79H492.85V182.69H494.7V183.24H496.55V183.24H498.41V181.59H500.26V182.4H502.11V182.6H503.97V182.71H505.82V183.16H507.67V183.22H509.53V182.66H511.38V183.26H513.24V183.26H515.09V183.05H516.94V182.66H518.8V181.75H520.65V182.9H522.5V183.1H524.36V181.67H526.21V183.11H528.06V182.86H529.92V182.86H531.77V183.26H533.62V183.24H535.48V183.26H537.33V182.16H539.19V183.01H541.04V182.45H542.89V182.91H544.75V182.83H546.6V183.26" fill="#0173b2" fill-opacity="0.44" stroke="#0173b2" stroke-width="0.85"/>
<path d="M324.17,183.26L324.73,183.26L325.28,183.26L325.84,183.26L326.4,183.26L326.96,183.26L327.51,183.26L328.07,183.26L328.63,183.26L329.19,183.26L329.74,183.26L330.3,183.26L330.86,183.26L331.42,183.26L331.97,183.26L332.53,183.26L333.09,183.26L333.65,183.26L334.2,183.26L334.76,183.26L335.32,183.26L335.88,183.26L336.43,183.26L336.99,183.26L337.55,183.26L338.11,183.26L338.66,183.26L339.22,183.26L339.78,183.26L340.34,183.26L340.89,183.26L341.45,183.26L342.01,183.26L342.57,183.26L343.12,183.26L343.68,183.26L344.24,183.26L344.8,183.26L345.35,183.26L345.91,183.26L346.47,183.26L347.03,183.26L347.58,183.26L348.14,183.26L348.7,183.26L349.26,183.26L349.81,183.26L350.37,183.26L350.93,183.26L351.49,183.26L352.04,183.26L352.6,183.25L353.16,183.25L353.72,183.25L354.27,183.24L354.83,183.24L355.39,183.23L355.95,183.22L356.5,183.21L357.06,183.2L357.62,183.18L358.18,183.16L358.73,183.13L359.29,183.09L359.85,183.04L360.41,182.99L360.96,182.91L361.52,182.83L362.08,182.72L362.64,182.58L363.19,182.43L363.75,182.23L364.31,182L364.87,181.73L365.42,181.4L365.98,181.02L366.54,180.57L367.1,180.05L367.65,179.44L368.21,178.74L368.77,177.95L369.32,177.04L369.88,176.01L370.44,174.86L371,173.57L371.55,172.14L372.11,170.56L372.67,168.83L373.23,166.94L373.78,164.9L374.34,162.7L374.9,160.36L375.46,157.88L376.01,155.27L376.57,152.54L377.13,149.72L377.69,146.81L378.24,143.86L378.8,140.87L379.36,137.88L379.92,134.93L380.47,132.04L381.03,129.24L381.59,126.58L382.15,124.08L382.7,121.78L383.26,119.7L383.82,117.88L384.38,116.35L384.93,115.11L385.49,114.2L386.05,113.62L386.61,113.39L387.16,113.51L387.72,113.97L388.28,114.77L388.84,115.9L389.39,117.33L389.95,119.06L390.51,121.05L391.07,123.28L391.62,125.72L392.18,128.33L392.74,131.09L393.3,133.95L393.85,136.89L394.41,139.87L394.97,142.86L395.53,145.83L396.08,148.75L396.64,151.6L397.2,154.37L397.76,157.02L398.31,159.54L398.87,161.93L399.43,164.18L399.99,166.27L400.54,168.21L401.1,169.99L401.66,171.62L402.22,173.1L402.77,174.44L403.33,175.64L403.89,176.71L404.45,177.65L405,178.49L405.56,179.22L406.12,179.85L406.68,180.4L407.23,180.88L407.79,181.28L408.35,181.62L408.91,181.91L409.46,182.16L410.02,182.36L410.58,182.53L411.14,182.68L411.69,182.79L412.25,182.89L412.81,182.96L413.36,183.03L413.92,183.08L414.48,183.12L415.04,183.15L415.59,183.17L416.15,183.19L416.71,183.21L417.27,183.22L417.82,183.23L418.38,183.24L418.94,183.24L419.5,183.25L420.05,183.25L420.61,183.25L421.17,183.25L421.73,183.26L422.28,183.26L422.84,183.26L423.4,183.26L423.96,183.26L424.51,183.26L425.07,183.26L425.63,183.26L426.19,183.26L426.74,183.26L427.3,183.26L427.86,183.26L428.42,183.26L428.97,183.26L429.53,183.26L430.09,183.26L430.65,183.26L431.2,183.26L431.76,183.26L432.32,183.26L432.88,183.26L433.43,183.26L433.99,183.26L434.55,183.26L435.11,183.26L435.66,183.26L436.22,183.26L436.78,183.26L437.34,183.26L437.89,183.26L438.45,183.26L439.01,183.26L439.57,183.26L440.12,183.26L440.68,183.26L441.24,183.26L441.8,183.26L442.35,183.26L442.91,183.26L443.47,183.26L444.03,183.26L444.58,183.26L445.14,183.26L445.7,183.26L446.26,183.26L446.81,183.26L447.37,183.26L447.93,183.26L448.49,183.26L449.04,183.26L449.6,183.26L450.16,183.26L450.72,183.26L451.27,183.26L451.83,183.26L452.39,183.26L452.95,183.26L453.5,183.26L454.06,183.26L454.62,183.26L455.18,183.26L455.73,183.26L456.29,183.26L456.85,183.26L457.41,183.26L457.96,183.26L458.52,183.26L459.08,183.26L459.63,183.26L460.19,183.26L460.75,183.26L461.31,183.26L461.86,183.26L462.42,183.26L462.98,183.26L463.54,183.26L464.09,183.26L464.65,183.26L465.21,183.26L465.77,183.26L466.32,183.26L466.88,183.26L467.44,183.26L468,183.26L468.55,183.26L469.11,183.26L469.67,183.26L470.23,183.26L470.78,183.26L471.34,183.26L471.9,183.26L472.46,183.26L473.01,183.26L473.57,183.26L474.13,183.26L474.69,183.26L475.24,183.26L475.8,183.26L476.36,183.26L476.92,183.26L477.47,183.26L478.03,183.26L478.59,183.26L479.15,183.26L479.7,183.26L480.26,183.26L480.82,183.26L481.38,183.26L481.93,183.26L482.49,183.26L483.05,183.26L483.61,183.26L484.16,183.26L484.72,183.26L485.28,183.26L485.84,183.26L486.39,183.26L486.95,183.26L487.51,183.26L488.07,183.26L488.62,183.26L489.18,183.26L489.74,183.26L490.3,183.26L490.85,183.26L491.41,183.26L491.97,183.26L492.53,183.26L493.08,183.26L493.64,183.26L494.2,183.26L494.76,183.26L495.31,183.26L495.87,183.26L496.43,183.26L496.99,183.26L497.54,183.26L498.1,183.26L498.66,183.26L499.22,183.26L499.77,183.26L500.33,183.26L500.89,183.26L501.45,183.26L502,183.26L502.56,183.26L503.12,183.26L503.67,183.26L504.23,183.26L504.79,183.26L505.35,183.26L505.9,183.26L506.46,183.26L507.02,183.26L507.58,183.26L508.13,183.26L508.69,183.26L509.25,183.26L509.81,183.26L510.36,183.26L510.92,183.26L511.48,183.26L512.04,183.26L512.59,183.26L513.15,183.26L513.71,183.26L514.27,183.26L514.82,183.26L515.38,183.26L515.94,183.26L516.5,183.26L517.05,183.26L517.61,183.26L518.17,183.26L518.73,183.26L519.28,183.26L519.84,183.26L520.4,183.26L520.96,183.26L521.51,183.26L522.07,183.26L522.63,183.26L523.19,183.26L523.74,183.26L524.3,183.26L524.86,183.26L525.42,183.26L525.97,183.26L526.53,183.26L527.09,183.26L527.65,183.26L528.2,183.26L528.76,183.26L529.32,183.26L529.88,183.26L530.43,183.26L530.99,183.26L531.55,183.26L532.11,183.26L532.66,183.26L533.22,183.26L533.78,183.26L534.34,183.26L534.89,183.26L535.45,183.26L536.01,183.26L536.57,183.26L537.12,183.26L537.68,183.26L538.24,183.26L538.8,183.26L539.35,183.26L539.91,183.26L540.47,183.26L541.03,183.26L541.58,183.26L542.14,183.26L542.7,183.26L543.26,183.26L543.81,183.26L544.37,183.26L544.93,183.26L545.49,183.26L546.04,183.26L546.6,183.26" fill="none" stroke="#de8f05" stroke-width="1.4" stroke-linejoin="round"/>
<path d="M324.17,183.26L324.73,183.26L325.28,183.26L325.84,183.26L326.4,183.26L326.96,183.26L327.51,183.26L328.07,183.26L328.63,183.26L329.19,183.26L329.74,183.26L330.3,183.26L330.86,183.26L331.42,183.26L331.97,183.26L332.53,183.26L333.09,183.26L333.65,183.26L334.2,183.26L334.76,183.26L335.32,183.26L335.88,183.26L336.43,183.26L336.99,183.26L337.55,183.26L338.11,183.26L338.66,183.26L339.22,183.26L339.78,183.26L340.34,183.26L340.89,183.26L341.45,183.26L342.01,183.26L342.57,183.26L343.12,183.26L343.68,183.26L344.24,183.26L344.8,183.26L345.35,183.26L345.91,183.26L346.47,183.26L347.03,183.26L347.58,183.26L348.14,183.26L348.7,183.26L349.26,183.26L349.81,183.26L350.37,183.26L350.93,183.26L351.49,183.26L352.04,183.26L352.6,183.26L353.16,183.26L353.72,183.26L354.27,183.26L354.83,183.26L355.39,183.26L355.95,183.26L356.5,183.26L357.06,183.26L357.62,183.26L358.18,183.26L358.73,183.26L359.29,183.26L359.85,183.26L360.41,183.26L360.96,183.26L361.52,183.26L362.08,183.26L362.64,183.26L363.19,183.26L363.75,183.26L364.31,183.26L364.87,183.26L365.42,183.26L365.98,183.26L366.54,183.26L367.1,183.26L367.65,183.26L368.21,183.26L368.77,183.26L369.32,183.26L369.88,183.26L370.44,183.26L371,183.26L371.55,183.26L372.11,183.26L372.67,183.26L373.23,183.26L373.78,183.26L374.34,183.26L374.9,183.26L375.46,183.26L376.01,183.26L376.57,183.26L377.13,183.26L377.69,183.26L378.24,183.26L378.8,183.26L379.36,183.26L379.92,183.26L380.47,183.26L381.03,183.26L381.59,183.26L382.15,183.26L382.7,183.26L383.26,183.26L383.82,183.25L384.38,183.25L384.93,183.25L385.49,183.25L386.05,183.25L386.61,183.24L387.16,183.24L387.72,183.24L388.28,183.23L388.84,183.22L389.39,183.22L389.95,183.21L390.51,183.19L391.07,183.18L391.62,183.16L392.18,183.14L392.74,183.12L393.3,183.09L393.85,183.06L394.41,183.02L394.97,182.98L395.53,182.93L396.08,182.86L396.64,182.79L397.2,182.71L397.76,182.62L398.31,182.51L398.87,182.38L399.43,182.24L399.99,182.07L400.54,181.89L401.1,181.67L401.66,181.43L402.22,181.16L402.77,180.86L403.33,180.51L403.89,180.13L404.45,179.7L405,179.22L405.56,178.69L406.12,178.11L406.68,177.47L407.23,176.76L407.79,175.98L408.35,175.14L408.91,174.22L409.46,173.22L410.02,172.14L410.58,170.98L411.14,169.73L411.69,168.39L412.25,166.96L412.81,165.45L413.36,163.84L413.92,162.14L414.48,160.35L415.04,158.48L415.59,156.53L416.15,154.49L416.71,152.39L417.27,150.21L417.82,147.98L418.38,145.69L418.94,143.35L419.5,140.99L420.05,138.6L420.61,136.19L421.17,133.79L421.73,131.4L422.28,129.04L422.84,126.72L423.4,124.45L423.96,122.25L424.51,120.14L425.07,118.12L425.63,116.21L426.19,114.43L426.74,112.78L427.3,111.29L427.86,109.95L428.42,108.79L428.97,107.8L429.53,107L430.09,106.39L430.65,105.98L431.2,105.77L431.76,105.77L432.32,105.96L432.88,106.36L433.43,106.96L433.99,107.74L434.55,108.72L435.11,109.87L435.66,111.2L436.22,112.69L436.78,114.32L437.34,116.1L437.89,118L438.45,120.01L439.01,122.12L439.57,124.31L440.12,126.58L440.68,128.89L441.24,131.25L441.8,133.64L442.35,136.04L442.91,138.45L443.47,140.84L444.03,143.21L444.58,145.54L445.14,147.84L445.7,150.07L446.26,152.25L446.81,154.37L447.37,156.4L447.93,158.36L448.49,160.24L449.04,162.03L449.6,163.74L450.16,165.35L450.72,166.87L451.27,168.3L451.83,169.65L452.39,170.9L452.95,172.07L453.5,173.15L454.06,174.16L454.62,175.08L455.18,175.93L455.73,176.71L456.29,177.42L456.85,178.07L457.41,178.66L457.96,179.19L458.52,179.67L459.08,180.1L459.63,180.49L460.19,180.83L460.75,181.14L461.31,181.42L461.86,181.66L462.42,181.87L462.98,182.06L463.54,182.23L464.09,182.37L464.65,182.5L465.21,182.61L465.77,182.71L466.32,182.79L466.88,182.86L467.44,182.92L468,182.97L468.55,183.02L469.11,183.06L469.67,183.09L470.23,183.12L470.78,183.14L471.34,183.16L471.9,183.18L472.46,183.19L473.01,183.21L473.57,183.21L474.13,183.22L474.69,183.23L475.24,183.24L475.8,183.24L476.36,183.24L476.92,183.25L477.47,183.25L478.03,183.25L478.59,183.25L479.15,183.25L479.7,183.26L480.26,183.26L480.82,183.26L481.38,183.26L481.93,183.26L482.49,183.26L483.05,183.26L483.61,183.26L484.16,183.26L484.72,183.26L485.28,183.26L485.84,183.26L486.39,183.26L486.95,183.26L487.51,183.26L488.07,183.26L488.62,183.26L489.18,183.26L489.74,183.26L490.3,183.26L490.85,183.26L491.41,183.26L491.97,183.26L492.53,183.26L493.08,183.26L493.64,183.26L494.2,183.26L494.76,183.26L495.31,183.26L495.87,183.26L496.43,183.26L496.99,183.26L497.54,183.26L498.1,183.26L498.66,183.26L499.22,183.26L499.77,183.26L500.33,183.26L500.89,183.26L501.45,183.26L502,183.26L502.56,183.26L503.12,183.26L503.67,183.26L504.23,183.26L504.79,183.26L505.35,183.26L505.9,183.26L506.46,183.26L507.02,183.26L507.58,183.26L508.13,183.26L508.69,183.26L509.25,183.26L509.81,183.26L510.36,183.26L510.92,183.26L511.48,183.26L512.04,183.26L512.59,183.26L513.15,183.26L513.71,183.26L514.27,183.26L514.82,183.26L515.38,183.26L515.94,183.26L516.5,183.26L517.05,183.26L517.61,183.26L518.17,183.26L518.73,183.26L519.28,183.26L519.84,183.26L520.4,183.26L520.96,183.26L521.51,183.26L522.07,183.26L522.63,183.26L523.19,183.26L523.74,183.26L524.3,183.26L524.86,183.26L525.42,183.26L525.97,183.26L526.53,183.26L527.09,183.26L527.65,183.26L528.2,183.26L528.76,183.26L529.32,183.26L529.88,183.26L530.43,183.26L530.99,183.26L531.55,183.26L532.11,183.26L532.66,183.26L533.22,183.26L533.78,183.26L534.34,183.26L534.89,183.26L535.45,183.26L536.01,183.26L536.57,183.26L537.12,183.26L537.68,183.26L538.24,183.26L538.8,183.26L539.35,183.26L539.91,183.26L540.47,183.26L541.03,183.26L541.58,183.26L542.14,183.26L542.7,183.26L543.26,183.26L543.81,183.26L544.37,183.26L544.93,183.26L545.49,183.26L546.04,183.26L546.6,183.26" fill="none" stroke="#029e73" stroke-width="1.4" stroke-linejoin="round"/>
<path d="M324.17,183.26L324.73,183.26L325.28,183.26L325.84,183.26L326.4,183.26L326.96,183.26L327.51,183.26L328.07,183.26L328.63,183.26L329.19,183.26L329.74,183.26L330.3,183.26L330.86,183.26L331.42,183.26L331.97,183.26L332.53,183.26L333.09,183.26L333.65,183.26L334.2,183.26L334.76,183.26L335.32,183.26L335.88,183.26L336.43,183.26L336.99,183.26L337.55,183.26L338.11,183.26L338.66,183.26L339.22,183.26L339.78,183.26L340.34,183.26L340.89,183.26L341.45,183.26L342.01,183.26L342.57,183.26L343.12,183.26L343.68,183.26L344.24,183.26L344.8,183.26L345.35,183.26L345.91,183.26L346.47,183.26L347.03,183.26L347.58,183.26L348.14,183.26L348.7,183.26L349.26,183.26L349.81,183.26L350.37,183.26L350.93,183.26L351.49,183.26L352.04,183.26L352.6,183.26L353.16,183.26L353.72,183.26L354.27,183.26L354.83,183.26L355.39,183.26L355.95,183.26L356.5,183.26L357.06,183.26L357.62,183.26L358.18,183.26L358.73,183.26L359.29,183.26L359.85,183.26L360.41,183.26L360.96,183.26L361.52,183.26L362.08,183.26L362.64,183.26L363.19,183.26L363.75,183.26L364.31,183.26L364.87,183.26L365.42,183.26L365.98,183.26L366.54,183.26L367.1,183.26L367.65,183.26L368.21,183.26L368.77,183.26L369.32,183.26L369.88,183.26L370.44,183.26L371,183.26L371.55,183.26L372.11,183.26L372.67,183.26L373.23,183.26L373.78,183.26L374.34,183.26L374.9,183.26L375.46,183.26L376.01,183.26L376.57,183.26L377.13,183.26L377.69,183.26L378.24,183.26L378.8,183.26L379.36,183.26L379.92,183.26L380.47,183.26L381.03,183.26L381.59,183.26L382.15,183.26L382.7,183.26L383.26,183.26L383.82,183.26L384.38,183.26L384.93,183.26L385.49,183.26L386.05,183.26L386.61,183.26L387.16,183.26L387.72,183.26L388.28,183.26L388.84,183.26L389.39,183.26L389.95,183.26L390.51,183.26L391.07,183.26L391.62,183.26L392.18,183.26L392.74,183.26L393.3,183.26L393.85,183.26L394.41,183.26L394.97,183.26L395.53,183.26L396.08,183.26L396.64,183.26L397.2,183.26L397.76,183.26L398.31,183.26L398.87,183.26L399.43,183.26L399.99,183.26L400.54,183.26L401.1,183.26L401.66,183.26L402.22,183.26L402.77,183.26L403.33,183.25L403.89,183.25L404.45,183.24L405,183.23L405.56,183.22L406.12,183.2L406.68,183.17L407.23,183.13L407.79,183.07L408.35,182.99L408.91,182.87L409.46,182.7L410.02,182.48L410.58,182.19L411.14,181.79L411.69,181.27L412.25,180.59L412.81,179.72L413.36,178.61L413.92,177.22L414.48,175.5L415.04,173.4L415.59,170.86L416.15,167.83L416.71,164.27L417.27,160.13L417.82,155.39L418.38,150.04L418.94,144.07L419.5,137.52L420.05,130.45L420.61,122.92L421.17,115.06L421.73,106.98L422.28,98.86L422.84,90.86L423.4,83.17L423.96,76L424.51,69.53L425.07,63.94L425.63,59.41L426.19,56.07L426.74,54.03L427.3,53.34L427.86,54.04L428.42,56.09L428.97,59.44L429.53,63.98L430.09,69.56L430.65,76.04L431.2,83.22L431.76,90.91L432.32,98.91L432.88,107.03L433.43,115.11L433.99,122.97L434.55,130.49L435.11,137.56L435.66,144.11L436.22,150.07L436.78,155.42L437.34,160.16L437.89,164.29L438.45,167.85L439.01,170.88L439.57,173.41L440.12,175.51L440.68,177.23L441.24,178.62L441.8,179.72L442.35,180.59L442.91,181.27L443.47,181.79L444.03,182.19L444.58,182.49L445.14,182.71L445.7,182.87L446.26,182.99L446.81,183.07L447.37,183.13L447.93,183.17L448.49,183.2L449.04,183.22L449.6,183.23L450.16,183.24L450.72,183.25L451.27,183.25L451.83,183.26L452.39,183.26L452.95,183.26L453.5,183.26L454.06,183.26L454.62,183.26L455.18,183.26L455.73,183.26L456.29,183.26L456.85,183.26L457.41,183.26L457.96,183.26L458.52,183.26L459.08,183.26L459.63,183.26L460.19,183.26L460.75,183.26L461.31,183.26L461.86,183.26L462.42,183.26L462.98,183.26L463.54,183.26L464.09,183.26L464.65,183.26L465.21,183.26L465.77,183.26L466.32,183.26L466.88,183.26L467.44,183.26L468,183.26L468.55,183.26L469.11,183.26L469.67,183.26L470.23,183.26L470.78,183.26L471.34,183.26L471.9,183.26L472.46,183.26L473.01,183.26L473.57,183.26L474.13,183.26L474.69,183.26L475.24,183.26L475.8,183.26L476.36,183.26L476.92,183.26L477.47,183.26L478.03,183.26L478.59,183.26L479.15,183.26L479.7,183.26L480.26,183.26L480.82,183.26L481.38,183.26L481.93,183.26L482.49,183.26L483.05,183.26L483.61,183.26L484.16,183.26L484.72,183.26L485.28,183.26L485.84,183.26L486.39,183.26L486.95,183.26L487.51,183.26L488.07,183.26L488.62,183.26L489.18,183.26L489.74,183.26L490.3,183.26L490.85,183.26L491.41,183.26L491.97,183.26L492.53,183.26L493.08,183.26L493.64,183.26L494.2,183.26L494.76,183.26L495.31,183.26L495.87,183.26L496.43,183.26L496.99,183.26L497.54,183.26L498.1,183.26L498.66,183.26L499.22,183.26L499.77,183.26L500.33,183.26L500.89,183.26L501.45,183.26L502,183.26L502.56,183.26L503.12,183.26L503.67,183.26L504.23,183.26L504.79,183.26L505.35,183.26L505.9,183.26L506.46,183.26L507.02,183.26L507.58,183.26L508.13,183.26L508.69,183.26L509.25,183.26L509.81,183.26L510.36,183.26L510.92,183.26L511.48,183.26L512.04,183.26L512.59,183.26L513.15,183.26L513.71,183.26L514.27,183.26L514.82,183.26L515.38,183.26L515.94,183.26L516.5,183.26L517.05,183.26L517.61,183.26L518.17,183.26L518.73,183.26L519.28,183.26L519.84,183.26L520.4,183.26L520.96,183.26L521.51,183.26L522.07,183.26L522.63,183.26L523.19,183.26L523.74,183.26L524.3,183.26L524.86,183.26L525.42,183.26L525.97,183.26L526.53,183.26L527.09,183.26L527.65,183.26L528.2,183.26L528.76,183.26L529.32,183.26L529.88,183.26L530.43,183.26L530.99,183.26L531.55,183.26L532.11,183.26L532.66,183.26L533.22,183.26L533.78,183.26L534.34,183.26L534.89,183.26L535.45,183.26L536.01,183.26L536.57,183.26L537.12,183.26L537.68,183.26L538.24,183.26L538.8,183.26L539.35,183.26L539.91,183.26L540.47,183.26L541.03,183.26L541.58,183.26L542.14,183.26L542.7,183.26L543.26,183.26L543.81,183.26L544.37,183.26L544.93,183.26L545.49,183.26L546.04,183.26L546.6,183.26" fill="none" stroke="#0173b2" stroke-width="1.4" stroke-linejoin="round"/>
<line x1="366.2" y1="38.4" x2="392.6" y2="38.4" stroke="#333" stroke-width="1.1"/>
<path d="M361.7,38.4L366.7,35.7V41.1Z M397.1,38.4L392.1,35.7V41.1Z" fill="#2a2a2a"/>
<line x1="403.2" y1="38.4" x2="407.8" y2="38.4" stroke="#333" stroke-width="1.1"/>
<path d="M398.7,38.4L403.7,35.7V41.1Z M412.3,38.4L407.3,35.7V41.1Z" fill="#2a2a2a"/>
<line x1="418.4" y1="38.4" x2="446.7" y2="38.4" stroke="#333" stroke-width="1.1"/>
<path d="M413.9,38.4L418.9,35.7V41.1Z M451.2,38.4L446.2,35.7V41.1Z" fill="#2a2a2a"/>
<line x1="457.3" y1="38.4" x2="504.5" y2="38.4" stroke="#333" stroke-width="1.1"/>
<path d="M452.8,38.4L457.8,35.7V41.1Z M509,38.4L504,35.7V41.1Z" fill="#2a2a2a"/>
<text x="379.5" y="32.7" font-size="9.8" text-anchor="middle" class="t">E</text>
<text x="405.6" y="32.7" font-size="9.8" text-anchor="middle" class="t">PF</text>
<text x="432.65" y="32.7" font-size="9.8" text-anchor="middle" class="t">F</text>
<text x="481" y="32.7" font-size="9.8" text-anchor="middle" class="t">OF</text>
<line x1="324.17" y1="21.7" x2="324.17" y2="183.26" stroke="#666666" stroke-width="1.1"/>
<line x1="320.97" y1="183.26" x2="324.17" y2="183.26" stroke="#666666" stroke-width="0.9"/>
<text x="318.27" y="186.16" font-size="7.6" text-anchor="end" class="t">0.000</text>
<line x1="322.57" y1="176.71" x2="324.17" y2="176.71" stroke="#666666" stroke-width="0.9"/>
<line x1="322.57" y1="170.16" x2="324.17" y2="170.16" stroke="#666666" stroke-width="0.9"/>
<line x1="322.57" y1="163.61" x2="324.17" y2="163.61" stroke="#666666" stroke-width="0.9"/>
<line x1="322.57" y1="157.06" x2="324.17" y2="157.06" stroke="#666666" stroke-width="0.9"/>
<line x1="320.97" y1="150.51" x2="324.17" y2="150.51" stroke="#666666" stroke-width="0.9"/>
<text x="318.27" y="153.41" font-size="7.6" text-anchor="end" class="t">0.015</text>
<line x1="322.57" y1="143.96" x2="324.17" y2="143.96" stroke="#666666" stroke-width="0.9"/>
<line x1="322.57" y1="137.41" x2="324.17" y2="137.41" stroke="#666666" stroke-width="0.9"/>
<line x1="322.57" y1="130.86" x2="324.17" y2="130.86" stroke="#666666" stroke-width="0.9"/>
<line x1="322.57" y1="124.31" x2="324.17" y2="124.31" stroke="#666666" stroke-width="0.9"/>
<line x1="320.97" y1="117.75" x2="324.17" y2="117.75" stroke="#666666" stroke-width="0.9"/>
<text x="318.27" y="120.66" font-size="7.6" text-anchor="end" class="t">0.030</text>
<line x1="322.57" y1="111.2" x2="324.17" y2="111.2" stroke="#666666" stroke-width="0.9"/>
<line x1="322.57" y1="104.65" x2="324.17" y2="104.65" stroke="#666666" stroke-width="0.9"/>
<line x1="322.57" y1="98.1" x2="324.17" y2="98.1" stroke="#666666" stroke-width="0.9"/>
<line x1="322.57" y1="91.55" x2="324.17" y2="91.55" stroke="#666666" stroke-width="0.9"/>
<line x1="320.97" y1="85" x2="324.17" y2="85" stroke="#666666" stroke-width="0.9"/>
<text x="318.27" y="87.9" font-size="7.6" text-anchor="end" class="t">0.045</text>
<line x1="322.57" y1="78.45" x2="324.17" y2="78.45" stroke="#666666" stroke-width="0.9"/>
<line x1="322.57" y1="71.9" x2="324.17" y2="71.9" stroke="#666666" stroke-width="0.9"/>
<line x1="322.57" y1="65.35" x2="324.17" y2="65.35" stroke="#666666" stroke-width="0.9"/>
<line x1="322.57" y1="58.8" x2="324.17" y2="58.8" stroke="#666666" stroke-width="0.9"/>
<line x1="320.97" y1="52.25" x2="324.17" y2="52.25" stroke="#666666" stroke-width="0.9"/>
<text x="318.27" y="55.15" font-size="7.6" text-anchor="end" class="t">0.060</text>
<line x1="322.57" y1="45.7" x2="324.17" y2="45.7" stroke="#666666" stroke-width="0.9"/>
<line x1="322.57" y1="39.15" x2="324.17" y2="39.15" stroke="#666666" stroke-width="0.9"/>
<line x1="322.57" y1="32.6" x2="324.17" y2="32.6" stroke="#666666" stroke-width="0.9"/>
<line x1="322.57" y1="26.05" x2="324.17" y2="26.05" stroke="#666666" stroke-width="0.9"/>
<line x1="327.88" y1="183.26" x2="327.88" y2="184.86" stroke="#666666" stroke-width="0.9"/>
<line x1="339" y1="183.26" x2="339" y2="184.86" stroke="#666666" stroke-width="0.9"/>
<line x1="350.12" y1="183.26" x2="350.12" y2="184.86" stroke="#666666" stroke-width="0.9"/>
<line x1="361.24" y1="183.26" x2="361.24" y2="186.26" stroke="#666666" stroke-width="0.9"/>
<text x="361.24" y="194.66" font-size="7.6" text-anchor="middle" class="t" textLength="14.6" lengthAdjust="spacingAndGlyphs">3000</text>
<line x1="372.36" y1="183.26" x2="372.36" y2="184.86" stroke="#666666" stroke-width="0.9"/>
<line x1="383.48" y1="183.26" x2="383.48" y2="184.86" stroke="#666666" stroke-width="0.9"/>
<line x1="394.61" y1="183.26" x2="394.61" y2="184.86" stroke="#666666" stroke-width="0.9"/>
<line x1="405.73" y1="183.26" x2="405.73" y2="184.86" stroke="#666666" stroke-width="0.9"/>
<line x1="416.85" y1="183.26" x2="416.85" y2="186.26" stroke="#666666" stroke-width="0.9"/>
<text x="416.85" y="194.66" font-size="7.6" text-anchor="middle" class="t" textLength="14.6" lengthAdjust="spacingAndGlyphs">4500</text>
<line x1="427.97" y1="183.26" x2="427.97" y2="184.86" stroke="#666666" stroke-width="0.9"/>
<line x1="439.09" y1="183.26" x2="439.09" y2="184.86" stroke="#666666" stroke-width="0.9"/>
<line x1="450.21" y1="183.26" x2="450.21" y2="184.86" stroke="#666666" stroke-width="0.9"/>
<line x1="461.34" y1="183.26" x2="461.34" y2="184.86" stroke="#666666" stroke-width="0.9"/>
<line x1="472.46" y1="183.26" x2="472.46" y2="186.26" stroke="#666666" stroke-width="0.9"/>
<text x="472.46" y="194.66" font-size="7.6" text-anchor="middle" class="t" textLength="14.6" lengthAdjust="spacingAndGlyphs">6000</text>
<line x1="483.58" y1="183.26" x2="483.58" y2="184.86" stroke="#666666" stroke-width="0.9"/>
<line x1="494.7" y1="183.26" x2="494.7" y2="184.86" stroke="#666666" stroke-width="0.9"/>
<line x1="505.82" y1="183.26" x2="505.82" y2="184.86" stroke="#666666" stroke-width="0.9"/>
<line x1="516.94" y1="183.26" x2="516.94" y2="184.86" stroke="#666666" stroke-width="0.9"/>
<line x1="528.06" y1="183.26" x2="528.06" y2="186.26" stroke="#666666" stroke-width="0.9"/>
<text x="528.06" y="194.66" font-size="7.6" text-anchor="middle" class="t" textLength="14.6" lengthAdjust="spacingAndGlyphs">7500</text>
<line x1="539.19" y1="183.26" x2="539.19" y2="184.86" stroke="#666666" stroke-width="0.9"/>
<text x="428.5" y="208.3" font-size="8.2" text-anchor="middle" class="t" textLength="39.7" lengthAdjust="spacingAndGlyphs">Mass / kDa</text>
<text transform="translate(297.4,102.28) rotate(-90)" font-size="8.2" text-anchor="middle" class="t" textLength="64.5" lengthAdjust="spacingAndGlyphs">Normalised counts</text>
<text x="435.6" y="16.6" font-size="15.6" text-anchor="middle" class="tt" textLength="40.3" lengthAdjust="spacingAndGlyphs">AAV8</text>
<text x="418.9" y="230.3" font-size="11" text-anchor="middle" class="t">(<tspan font-weight="bold">b</tspan>)</text>
<rect x="223.9" y="257.8" width="22.9" height="167.56" fill="#caebfd"/>
<rect x="246.8" y="257.8" width="27.5" height="167.56" fill="#9bd8fc"/>
<rect x="274.3" y="257.8" width="44.8" height="167.56" fill="#80bee3"/>
<rect x="319.1" y="257.8" width="45.8" height="167.56" fill="#7f9fb3"/>
<path d="M171.55,425.36V425.36H174.16V424.29H176.77V425.06H179.38V424.94H181.99V425.22H184.59V424.58H187.2V425.36H189.81V425.17H192.42V425.36H195.03V425.34H197.64V424.06H200.25V424.76H202.86V425.11H205.47V424.98H208.08V424.3H210.68V425.2H213.29V424.87H215.9V424.71H218.51V425.17H221.12V424.89H223.73V424.24H226.34V422.99H228.95V422.63H231.56V416.92H234.17V412.46H236.77V405.88H239.38V408.07H241.99V401.24H244.6V402.12H247.21V388.87H249.82V393.04H252.43V399.99H255.04V399.47H257.65V406.25H260.26V408.51H262.86V410.59H265.47V407.98H268.08V407.46H270.69V420.36H273.3V418.54H275.91V415.71H278.52V414.92H281.13V415.51H283.74V412.07H286.35V407.15H288.95V412.72H291.56V406.02H294.17V408.24H296.78V409.98H299.39V404.32H302V408.25H304.61V413.39H307.22V412.84H309.83V412.94H312.44V416.42H315.04V416.17H317.65V419.51H320.26V420.1H322.87V420.83H325.48V421.74H328.09V423.35H330.7V423.22H333.31V423.81H335.92V424.14H338.53V424.45H341.13V423.81H343.74V425.04H346.35V425.04H348.96V425.26H351.57V425.33H354.18V425.28H356.79V424.19H359.4V424.37H362.01V425.34H364.62V424.85H367.22V425.04H369.83V424.87H372.44V424.76H375.05V425.23H377.66V424.08H380.27V425.06H382.88V424.81H385.49V424.8H388.1V425.31H390.71V425.35H393.31V425.12H395.92V424.55H398.53V424.44H401.14V424.62H403.75V425.36" fill="#0173b2" fill-opacity="0.44" stroke="#0173b2" stroke-width="0.85"/>
<path d="M171.55,425.36V424.4H174.16V424.83H176.77V425.31H179.38V425.1H181.99V424.27H184.59V425.16H187.2V424.66H189.81V425.35H192.42V424.62H195.03V424.52H197.64V424.41H200.25V424.73H202.86V425.17H205.47V425.35H208.08V424.99H210.68V424.56H213.29V425.31H215.9V425.26H218.51V424.96H221.12V424.58H223.73V424.24H226.34V425.34H228.95V425.31H231.56V424.47H234.17V424.78H236.77V424.63H239.38V423.96H241.99V424.09H244.6V424.28H247.21V424.34H249.82V424.87H252.43V424.23H255.04V423.37H257.65V420.73H260.26V415.96H262.86V410.72H265.47V413.68H268.08V414.61H270.69V409.37H273.3V406.29H275.91V400.38H278.52V393.08H281.13V389.79H283.74V386.18H286.35V370.79H288.95V370.77H291.56V353.08H294.17V350.32H296.78V347.17H299.39V353.42H302V367.63H304.61V369.83H307.22V379.77H309.83V385.22H312.44V386.98H315.04V397.32H317.65V400.57H320.26V405.52H322.87V404.79H325.48V414.76H328.09V413.75H330.7V416.56H333.31V418.58H335.92V420.67H338.53V422.31H341.13V422.06H343.74V424.2H346.35V423.96H348.96V425.09H351.57V424.92H354.18V425.31H356.79V425.21H359.4V425.22H362.01V424.64H364.62V425.07H367.22V425.36H369.83V423.98H372.44V424.26H375.05V424.19H377.66V425.28H380.27V425.14H382.88V425.29H385.49V425.34H388.1V425.36H390.71V425.01H393.31V425.34H395.92V425.32H398.53V424.33H401.14V425.03H403.75V425.36" fill="#029e73" fill-opacity="0.44" stroke="#029e73" stroke-width="0.85"/>
<path d="M171.55,425.36V424.64H173.15V425.26H174.75V425.12H176.35V424.15H177.96V423.92H179.56V425.35H181.16V424.05H182.76V423.73H184.36V424.88H185.96V425.35H187.56V424.23H189.17V425.21H190.77V424.35H192.37V425.01H193.97V424.37H195.57V425.2H197.17V424.81H198.77V424.69H200.37V424.39H201.98V425.26H203.58V423.11H205.18V425.16H206.78V425.13H208.38V425.2H209.98V425.35H211.58V424.92H213.19V423.91H214.79V424.14H216.39V425.27H217.99V425.31H219.59V425.11H221.19V423.91H222.79V424.71H224.4V422.96H226V423.19H227.6V421.09H229.2V416.16H230.8V405.22H232.4V389.8H234V365.97H235.61V336.39H237.21V317.98H238.81V291.22H240.41V285.31H242.01V314.59H243.61V341.26H245.21V367.92H246.81V398.71H248.42V411.13H250.02V416.69H251.62V422.93H253.22V424.53H254.82V425.06H256.42V424.76H258.02V425.35H259.63V424.85H261.23V425.3H262.83V425.18H264.43V423.83H266.03V425.28H267.63V424.43H269.23V424.96H270.84V424.94H272.44V423.74H274.04V425.3H275.64V423.28H277.24V423.42H278.84V424.27H280.44V425.35H282.05V424.29H283.65V424.48H285.25V423.91H286.85V425.25H288.45V423.15H290.05V423.45H291.65V425.33H293.25V425.12H294.86V425.36H296.46V423.68H298.06V423.32H299.66V422.98H301.26V424.45H302.86V424.28H304.46V424.24H306.07V424.57H307.67V423.15H309.27V424.46H310.87V425.09H312.47V424.72H314.07V425.36H315.67V424.08H317.28V424.19H318.88V424.93H320.48V423.6H322.08V423.97H323.68V425.08H325.28V425.35H326.88V425.32H328.49V425.28H330.09V425.14H331.69V424.87H333.29V423.27H334.89V425.17H336.49V423.4H338.09V424.23H339.69V423.59H341.3V424.96H342.9V425.36H344.5V423.85H346.1V425.21H347.7V425.31H349.3V423.81H350.9V424.21H352.51V425.25H354.11V425.19H355.71V423.21H357.31V425.18H358.91V424.16H360.51V425.32H362.11V423.74H363.72V425.33H365.32V424.71H366.92V425.36H368.52V424.62H370.12V423.62H371.72V425.34H373.32V425.18H374.93V423.94H376.53V424.46H378.13V425.12H379.73V424.4H381.33V424.86H382.93V423.55H384.53V425.15H386.13V423.96H387.74V424.38H389.34V424.03H390.94V425.01H392.54V424.08H394.14V424.17H395.74V424.99H397.34V425.36H398.95V423.1H400.55V424.12H402.15V425.26H403.75V425.36" fill="#de8f05" fill-opacity="0.44" stroke="#de8f05" stroke-width="0.85"/>
<path d="M171.55,425.36L172.13,425.36L172.71,425.36L173.3,425.36L173.88,425.36L174.46,425.36L175.04,425.36L175.62,425.36L176.21,425.36L176.79,425.36L177.37,425.36L177.95,425.36L178.53,425.36L179.12,425.36L179.7,425.36L180.28,425.36L180.86,425.36L181.44,425.36L182.03,425.36L182.61,425.36L183.19,425.36L183.77,425.36L184.35,425.36L184.93,425.36L185.52,425.36L186.1,425.36L186.68,425.36L187.26,425.36L187.84,425.36L188.43,425.36L189.01,425.36L189.59,425.36L190.17,425.36L190.75,425.36L191.34,425.36L191.92,425.36L192.5,425.36L193.08,425.36L193.66,425.36L194.25,425.36L194.83,425.36L195.41,425.36L195.99,425.36L196.57,425.36L197.16,425.36L197.74,425.36L198.32,425.36L198.9,425.36L199.48,425.36L200.07,425.36L200.65,425.36L201.23,425.36L201.81,425.36L202.39,425.36L202.98,425.36L203.56,425.36L204.14,425.36L204.72,425.36L205.3,425.36L205.89,425.36L206.47,425.36L207.05,425.36L207.63,425.36L208.21,425.36L208.8,425.36L209.38,425.36L209.96,425.36L210.54,425.36L211.12,425.36L211.7,425.36L212.29,425.36L212.87,425.36L213.45,425.36L214.03,425.36L214.61,425.36L215.2,425.36L215.78,425.36L216.36,425.35L216.94,425.35L217.52,425.35L218.11,425.34L218.69,425.33L219.27,425.33L219.85,425.31L220.43,425.29L221.02,425.27L221.6,425.24L222.18,425.2L222.76,425.15L223.34,425.08L223.93,424.99L224.51,424.89L225.09,424.75L225.67,424.59L226.25,424.39L226.84,424.14L227.42,423.84L228,423.49L228.58,423.07L229.16,422.58L229.75,422.02L230.33,421.37L230.91,420.64L231.49,419.81L232.07,418.89L232.66,417.88L233.24,416.78L233.82,415.6L234.4,414.35L234.98,413.03L235.57,411.66L236.15,410.27L236.73,408.86L237.31,407.47L237.89,406.12L238.47,404.82L239.06,403.62L239.64,402.53L240.22,401.58L240.8,400.78L241.38,400.16L241.97,399.73L242.55,399.51L243.13,399.48L243.71,399.67L244.29,400.05L244.88,400.63L245.46,401.39L246.04,402.31L246.62,403.38L247.2,404.56L247.79,405.83L248.37,407.17L248.95,408.56L249.53,409.96L250.11,411.35L250.7,412.72L251.28,414.05L251.86,415.31L252.44,416.5L253.02,417.61L253.61,418.63L254.19,419.56L254.77,420.4L255.35,421.14L255.93,421.79L256.52,422.35L257.1,422.84L257.68,423.25L258.26,423.59L258.84,423.87L259.43,424.1L260.01,424.28L260.59,424.41L261.17,424.51L261.75,424.58L262.33,424.61L262.92,424.63L263.5,424.62L264.08,424.59L264.66,424.55L265.24,424.49L265.83,424.41L266.41,424.32L266.99,424.22L267.57,424.11L268.15,423.98L268.74,423.84L269.32,423.69L269.9,423.52L270.48,423.34L271.06,423.15L271.65,422.94L272.23,422.72L272.81,422.49L273.39,422.24L273.97,421.97L274.56,421.69L275.14,421.4L275.72,421.09L276.3,420.76L276.88,420.43L277.47,420.07L278.05,419.71L278.63,419.33L279.21,418.94L279.79,418.54L280.38,418.12L280.96,417.7L281.54,417.27L282.12,416.84L282.7,416.4L283.29,415.95L283.87,415.51L284.45,415.06L285.03,414.62L285.61,414.18L286.2,413.75L286.78,413.32L287.36,412.91L287.94,412.51L288.52,412.12L289.1,411.75L289.69,411.39L290.27,411.06L290.85,410.75L291.43,410.46L292.01,410.2L292.6,409.97L293.18,409.77L293.76,409.59L294.34,409.45L294.92,409.34L295.51,409.26L296.09,409.21L296.67,409.2L297.25,409.22L297.83,409.28L298.42,409.36L299,409.48L299.58,409.63L300.16,409.81L300.74,410.03L301.33,410.27L301.91,410.53L302.49,410.82L303.07,411.14L303.65,411.48L304.24,411.83L304.82,412.21L305.4,412.6L305.98,413.01L306.56,413.42L307.15,413.85L307.73,414.29L308.31,414.73L308.89,415.17L309.47,415.61L310.06,416.06L310.64,416.5L311.22,416.94L311.8,417.38L312.38,417.8L312.97,418.22L313.55,418.63L314.13,419.03L314.71,419.42L315.29,419.8L315.87,420.16L316.46,420.51L317.04,420.84L317.62,421.16L318.2,421.47L318.78,421.76L319.37,422.04L319.95,422.3L320.53,422.55L321.11,422.78L321.69,423L322.28,423.2L322.86,423.39L323.44,423.57L324.02,423.73L324.6,423.88L325.19,424.03L325.77,424.16L326.35,424.28L326.93,424.38L327.51,424.49L328.1,424.58L328.68,424.66L329.26,424.74L329.84,424.81L330.42,424.87L331.01,424.92L331.59,424.97L332.17,425.02L332.75,425.06L333.33,425.1L333.92,425.13L334.5,425.16L335.08,425.18L335.66,425.21L336.24,425.23L336.83,425.24L337.41,425.26L337.99,425.27L338.57,425.29L339.15,425.3L339.73,425.3L340.32,425.31L340.9,425.32L341.48,425.33L342.06,425.33L342.64,425.33L343.23,425.34L343.81,425.34L344.39,425.34L344.97,425.35L345.55,425.35L346.14,425.35L346.72,425.35L347.3,425.35L347.88,425.35L348.46,425.36L349.05,425.36L349.63,425.36L350.21,425.36L350.79,425.36L351.37,425.36L351.96,425.36L352.54,425.36L353.12,425.36L353.7,425.36L354.28,425.36L354.87,425.36L355.45,425.36L356.03,425.36L356.61,425.36L357.19,425.36L357.78,425.36L358.36,425.36L358.94,425.36L359.52,425.36L360.1,425.36L360.69,425.36L361.27,425.36L361.85,425.36L362.43,425.36L363.01,425.36L363.6,425.36L364.18,425.36L364.76,425.36L365.34,425.36L365.92,425.36L366.5,425.36L367.09,425.36L367.67,425.36L368.25,425.36L368.83,425.36L369.41,425.36L370,425.36L370.58,425.36L371.16,425.36L371.74,425.36L372.32,425.36L372.91,425.36L373.49,425.36L374.07,425.36L374.65,425.36L375.23,425.36L375.82,425.36L376.4,425.36L376.98,425.36L377.56,425.36L378.14,425.36L378.73,425.36L379.31,425.36L379.89,425.36L380.47,425.36L381.05,425.36L381.64,425.36L382.22,425.36L382.8,425.36L383.38,425.36L383.96,425.36L384.55,425.36L385.13,425.36L385.71,425.36L386.29,425.36L386.87,425.36L387.46,425.36L388.04,425.36L388.62,425.36L389.2,425.36L389.78,425.36L390.37,425.36L390.95,425.36L391.53,425.36L392.11,425.36L392.69,425.36L393.27,425.36L393.86,425.36L394.44,425.36L395.02,425.36L395.6,425.36L396.18,425.36L396.77,425.36L397.35,425.36L397.93,425.36L398.51,425.36L399.09,425.36L399.68,425.36L400.26,425.36L400.84,425.36L401.42,425.36L402,425.36L402.59,425.36L403.17,425.36L403.75,425.36" fill="none" stroke="#0173b2" stroke-width="1.4" stroke-linejoin="round"/>
<path d="M171.55,425.36L172.13,425.36L172.71,425.36L173.3,425.36L173.88,425.36L174.46,425.36L175.04,425.36L175.62,425.36L176.21,425.36L176.79,425.36L177.37,425.36L177.95,425.36L178.53,425.36L179.12,425.36L179.7,425.36L180.28,425.36L180.86,425.36L181.44,425.36L182.03,425.36L182.61,425.36L183.19,425.36L183.77,425.36L184.35,425.36L184.93,425.36L185.52,425.36L186.1,425.36L186.68,425.36L187.26,425.36L187.84,425.36L188.43,425.36L189.01,425.36L189.59,425.36L190.17,425.36L190.75,425.36L191.34,425.36L191.92,425.36L192.5,425.36L193.08,425.36L193.66,425.36L194.25,425.36L194.83,425.36L195.41,425.36L195.99,425.36L196.57,425.36L197.16,425.36L197.74,425.36L198.32,425.36L198.9,425.36L199.48,425.36L200.07,425.36L200.65,425.36L201.23,425.36L201.81,425.36L202.39,425.36L202.98,425.36L203.56,425.36L204.14,425.36L204.72,425.36L205.3,425.36L205.89,425.36L206.47,425.36L207.05,425.36L207.63,425.36L208.21,425.36L208.8,425.36L209.38,425.36L209.96,425.36L210.54,425.36L211.12,425.36L211.7,425.36L212.29,425.36L212.87,425.36L213.45,425.36L214.03,425.36L214.61,425.36L215.2,425.36L215.78,425.36L216.36,425.36L216.94,425.36L217.52,425.36L218.11,425.36L218.69,425.36L219.27,425.36L219.85,425.36L220.43,425.36L221.02,425.36L221.6,425.36L222.18,425.36L222.76,425.36L223.34,425.36L223.93,425.36L224.51,425.36L225.09,425.36L225.67,425.36L226.25,425.36L226.84,425.36L227.42,425.36L228,425.36L228.58,425.36L229.16,425.36L229.75,425.36L230.33,425.36L230.91,425.36L231.49,425.36L232.07,425.36L232.66,425.36L233.24,425.36L233.82,425.36L234.4,425.36L234.98,425.35L235.57,425.35L236.15,425.35L236.73,425.35L237.31,425.35L237.89,425.35L238.47,425.34L239.06,425.34L239.64,425.34L240.22,425.33L240.8,425.33L241.38,425.32L241.97,425.32L242.55,425.31L243.13,425.3L243.71,425.29L244.29,425.28L244.88,425.27L245.46,425.26L246.04,425.24L246.62,425.22L247.2,425.2L247.79,425.18L248.37,425.15L248.95,425.12L249.53,425.08L250.11,425.04L250.7,425L251.28,424.95L251.86,424.89L252.44,424.82L253.02,424.75L253.61,424.67L254.19,424.58L254.77,424.48L255.35,424.37L255.93,424.25L256.52,424.11L257.1,423.96L257.68,423.79L258.26,423.6L258.84,423.4L259.43,423.18L260.01,422.93L260.59,422.66L261.17,422.37L261.75,422.05L262.33,421.7L262.92,421.33L263.5,420.92L264.08,420.48L264.66,420L265.24,419.49L265.83,418.94L266.41,418.34L266.99,417.71L267.57,417.03L268.15,416.31L268.74,415.54L269.32,414.72L269.9,413.86L270.48,412.94L271.06,411.98L271.65,410.96L272.23,409.89L272.81,408.77L273.39,407.6L273.97,406.37L274.56,405.1L275.14,403.78L275.72,402.4L276.3,400.98L276.88,399.52L277.47,398.01L278.05,396.46L278.63,394.88L279.21,393.26L279.79,391.61L280.38,389.93L280.96,388.24L281.54,386.53L282.12,384.8L282.7,383.07L283.29,381.34L283.87,379.61L284.45,377.89L285.03,376.19L285.61,374.52L286.2,372.87L286.78,371.26L287.36,369.7L287.94,368.18L288.52,366.72L289.1,365.32L289.69,363.99L290.27,362.73L290.85,361.55L291.43,360.46L292.01,359.46L292.6,358.56L293.18,357.75L293.76,357.05L294.34,356.45L294.92,355.97L295.51,355.6L296.09,355.34L296.67,355.19L297.25,355.16L297.83,355.25L298.42,355.46L299,355.78L299.58,356.21L300.16,356.75L300.74,357.4L301.33,358.16L301.91,359.02L302.49,359.97L303.07,361.02L303.65,362.16L304.24,363.38L304.82,364.67L305.4,366.04L305.98,367.47L306.56,368.97L307.15,370.51L307.73,372.1L308.31,373.73L308.89,375.39L309.47,377.08L310.06,378.79L310.64,380.51L311.22,382.24L311.8,383.98L312.38,385.7L312.97,387.42L313.55,389.13L314.13,390.81L314.71,392.48L315.29,394.11L315.87,395.71L316.46,397.28L317.04,398.8L317.62,400.29L318.2,401.73L318.78,403.13L319.37,404.47L319.95,405.77L320.53,407.02L321.11,408.22L321.69,409.36L322.28,410.46L322.86,411.5L323.44,412.49L324.02,413.43L324.6,414.32L325.19,415.16L325.77,415.95L326.35,416.69L326.93,417.39L327.51,418.05L328.1,418.66L328.68,419.23L329.26,419.76L329.84,420.26L330.42,420.71L331.01,421.14L331.59,421.53L332.17,421.89L332.75,422.22L333.33,422.53L333.92,422.81L334.5,423.06L335.08,423.3L335.66,423.51L336.24,423.7L336.83,423.88L337.41,424.04L337.99,424.18L338.57,424.31L339.15,424.43L339.73,424.54L340.32,424.63L340.9,424.72L341.48,424.79L342.06,424.86L342.64,424.92L343.23,424.97L343.81,425.02L344.39,425.06L344.97,425.1L345.55,425.13L346.14,425.16L346.72,425.19L347.3,425.21L347.88,425.23L348.46,425.25L349.05,425.26L349.63,425.28L350.21,425.29L350.79,425.3L351.37,425.31L351.96,425.32L352.54,425.32L353.12,425.33L353.7,425.33L354.28,425.34L354.87,425.34L355.45,425.34L356.03,425.35L356.61,425.35L357.19,425.35L357.78,425.35L358.36,425.35L358.94,425.35L359.52,425.35L360.1,425.36L360.69,425.36L361.27,425.36L361.85,425.36L362.43,425.36L363.01,425.36L363.6,425.36L364.18,425.36L364.76,425.36L365.34,425.36L365.92,425.36L366.5,425.36L367.09,425.36L367.67,425.36L368.25,425.36L368.83,425.36L369.41,425.36L370,425.36L370.58,425.36L371.16,425.36L371.74,425.36L372.32,425.36L372.91,425.36L373.49,425.36L374.07,425.36L374.65,425.36L375.23,425.36L375.82,425.36L376.4,425.36L376.98,425.36L377.56,425.36L378.14,425.36L378.73,425.36L379.31,425.36L379.89,425.36L380.47,425.36L381.05,425.36L381.64,425.36L382.22,425.36L382.8,425.36L383.38,425.36L383.96,425.36L384.55,425.36L385.13,425.36L385.71,425.36L386.29,425.36L386.87,425.36L387.46,425.36L388.04,425.36L388.62,425.36L389.2,425.36L389.78,425.36L390.37,425.36L390.95,425.36L391.53,425.36L392.11,425.36L392.69,425.36L393.27,425.36L393.86,425.36L394.44,425.36L395.02,425.36L395.6,425.36L396.18,425.36L396.77,425.36L397.35,425.36L397.93,425.36L398.51,425.36L399.09,425.36L399.68,425.36L400.26,425.36L400.84,425.36L401.42,425.36L402,425.36L402.59,425.36L403.17,425.36L403.75,425.36" fill="none" stroke="#029e73" stroke-width="1.4" stroke-linejoin="round"/>
<path d="M171.55,425.36L172.13,425.36L172.71,425.36L173.3,425.36L173.88,425.36L174.46,425.36L175.04,425.36L175.62,425.36L176.21,425.36L176.79,425.36L177.37,425.36L177.95,425.36L178.53,425.36L179.12,425.36L179.7,425.36L180.28,425.36L180.86,425.36L181.44,425.36L182.03,425.36L182.61,425.36L183.19,425.36L183.77,425.36L184.35,425.36L184.93,425.36L185.52,425.36L186.1,425.36L186.68,425.36L187.26,425.36L187.84,425.36L188.43,425.36L189.01,425.36L189.59,425.36L190.17,425.36L190.75,425.36L191.34,425.36L191.92,425.36L192.5,425.36L193.08,425.36L193.66,425.36L194.25,425.36L194.83,425.36L195.41,425.36L195.99,425.36L196.57,425.36L197.16,425.36L197.74,425.36L198.32,425.36L198.9,425.36L199.48,425.36L200.07,425.36L200.65,425.36L201.23,425.36L201.81,425.36L202.39,425.36L202.98,425.36L203.56,425.36L204.14,425.36L204.72,425.36L205.3,425.36L205.89,425.36L206.47,425.36L207.05,425.36L207.63,425.36L208.21,425.36L208.8,425.36L209.38,425.36L209.96,425.36L210.54,425.36L211.12,425.36L211.7,425.36L212.29,425.36L212.87,425.36L213.45,425.36L214.03,425.36L214.61,425.36L215.2,425.36L215.78,425.36L216.36,425.36L216.94,425.36L217.52,425.36L218.11,425.36L218.69,425.36L219.27,425.36L219.85,425.36L220.43,425.36L221.02,425.35L221.6,425.35L222.18,425.34L222.76,425.32L223.34,425.3L223.93,425.26L224.51,425.19L225.09,425.08L225.67,424.92L226.25,424.66L226.84,424.29L227.42,423.75L228,422.97L228.58,421.88L229.16,420.39L229.75,418.4L230.33,415.77L230.91,412.4L231.49,408.15L232.07,402.93L232.66,396.66L233.24,389.3L233.82,380.87L234.4,371.47L234.98,361.27L235.57,350.52L236.15,339.55L236.73,328.77L237.31,318.6L237.89,309.5L238.47,301.91L239.06,296.21L239.64,292.7L240.22,291.57L240.8,292.87L241.38,296.55L241.97,302.39L242.55,310.1L243.13,319.29L243.71,329.52L244.29,340.33L244.88,351.29L245.46,362.01L246.04,372.16L246.62,381.5L247.2,389.85L247.79,397.14L248.37,403.34L248.95,408.48L249.53,412.66L250.11,415.98L250.7,418.56L251.28,420.52L251.86,421.97L252.44,423.03L253.02,423.79L253.61,424.32L254.19,424.69L254.77,424.93L255.35,425.09L255.93,425.19L256.52,425.26L257.1,425.3L257.68,425.33L258.26,425.34L258.84,425.35L259.43,425.35L260.01,425.36L260.59,425.36L261.17,425.36L261.75,425.36L262.33,425.36L262.92,425.36L263.5,425.36L264.08,425.36L264.66,425.36L265.24,425.36L265.83,425.36L266.41,425.36L266.99,425.36L267.57,425.36L268.15,425.36L268.74,425.36L269.32,425.36L269.9,425.36L270.48,425.36L271.06,425.36L271.65,425.36L272.23,425.36L272.81,425.36L273.39,425.36L273.97,425.36L274.56,425.36L275.14,425.36L275.72,425.36L276.3,425.36L276.88,425.36L277.47,425.36L278.05,425.36L278.63,425.36L279.21,425.36L279.79,425.36L280.38,425.36L280.96,425.36L281.54,425.36L282.12,425.36L282.7,425.36L283.29,425.36L283.87,425.36L284.45,425.36L285.03,425.36L285.61,425.36L286.2,425.36L286.78,425.36L287.36,425.36L287.94,425.36L288.52,425.36L289.1,425.36L289.69,425.36L290.27,425.36L290.85,425.36L291.43,425.36L292.01,425.36L292.6,425.36L293.18,425.36L293.76,425.36L294.34,425.36L294.92,425.36L295.51,425.36L296.09,425.36L296.67,425.36L297.25,425.36L297.83,425.36L298.42,425.36L299,425.36L299.58,425.36L300.16,425.36L300.74,425.36L301.33,425.36L301.91,425.36L302.49,425.36L303.07,425.36L303.65,425.36L304.24,425.36L304.82,425.36L305.4,425.36L305.98,425.36L306.56,425.36L307.15,425.36L307.73,425.36L308.31,425.36L308.89,425.36L309.47,425.36L310.06,425.36L310.64,425.36L311.22,425.36L311.8,425.36L312.38,425.36L312.97,425.36L313.55,425.36L314.13,425.36L314.71,425.36L315.29,425.36L315.87,425.36L316.46,425.36L317.04,425.36L317.62,425.36L318.2,425.36L318.78,425.36L319.37,425.36L319.95,425.36L320.53,425.36L321.11,425.36L321.69,425.36L322.28,425.36L322.86,425.36L323.44,425.36L324.02,425.36L324.6,425.36L325.19,425.36L325.77,425.36L326.35,425.36L326.93,425.36L327.51,425.36L328.1,425.36L328.68,425.36L329.26,425.36L329.84,425.36L330.42,425.36L331.01,425.36L331.59,425.36L332.17,425.36L332.75,425.36L333.33,425.36L333.92,425.36L334.5,425.36L335.08,425.36L335.66,425.36L336.24,425.36L336.83,425.36L337.41,425.36L337.99,425.36L338.57,425.36L339.15,425.36L339.73,425.36L340.32,425.36L340.9,425.36L341.48,425.36L342.06,425.36L342.64,425.36L343.23,425.36L343.81,425.36L344.39,425.36L344.97,425.36L345.55,425.36L346.14,425.36L346.72,425.36L347.3,425.36L347.88,425.36L348.46,425.36L349.05,425.36L349.63,425.36L350.21,425.36L350.79,425.36L351.37,425.36L351.96,425.36L352.54,425.36L353.12,425.36L353.7,425.36L354.28,425.36L354.87,425.36L355.45,425.36L356.03,425.36L356.61,425.36L357.19,425.36L357.78,425.36L358.36,425.36L358.94,425.36L359.52,425.36L360.1,425.36L360.69,425.36L361.27,425.36L361.85,425.36L362.43,425.36L363.01,425.36L363.6,425.36L364.18,425.36L364.76,425.36L365.34,425.36L365.92,425.36L366.5,425.36L367.09,425.36L367.67,425.36L368.25,425.36L368.83,425.36L369.41,425.36L370,425.36L370.58,425.36L371.16,425.36L371.74,425.36L372.32,425.36L372.91,425.36L373.49,425.36L374.07,425.36L374.65,425.36L375.23,425.36L375.82,425.36L376.4,425.36L376.98,425.36L377.56,425.36L378.14,425.36L378.73,425.36L379.31,425.36L379.89,425.36L380.47,425.36L381.05,425.36L381.64,425.36L382.22,425.36L382.8,425.36L383.38,425.36L383.96,425.36L384.55,425.36L385.13,425.36L385.71,425.36L386.29,425.36L386.87,425.36L387.46,425.36L388.04,425.36L388.62,425.36L389.2,425.36L389.78,425.36L390.37,425.36L390.95,425.36L391.53,425.36L392.11,425.36L392.69,425.36L393.27,425.36L393.86,425.36L394.44,425.36L395.02,425.36L395.6,425.36L396.18,425.36L396.77,425.36L397.35,425.36L397.93,425.36L398.51,425.36L399.09,425.36L399.68,425.36L400.26,425.36L400.84,425.36L401.42,425.36L402,425.36L402.59,425.36L403.17,425.36L403.75,425.36" fill="none" stroke="#de8f05" stroke-width="1.4" stroke-linejoin="round"/>
<line x1="229.2" y1="273.7" x2="241.5" y2="273.7" stroke="#333" stroke-width="1.1"/>
<path d="M224.7,273.7L229.7,271V276.4Z M246,273.7L241,271V276.4Z" fill="#2a2a2a"/>
<line x1="252.1" y1="273.7" x2="269" y2="273.7" stroke="#333" stroke-width="1.1"/>
<path d="M247.6,273.7L252.6,271V276.4Z M273.5,273.7L268.5,271V276.4Z" fill="#2a2a2a"/>
<line x1="279.6" y1="273.7" x2="313.8" y2="273.7" stroke="#333" stroke-width="1.1"/>
<path d="M275.1,273.7L280.1,271V276.4Z M318.3,273.7L313.3,271V276.4Z" fill="#2a2a2a"/>
<line x1="324.4" y1="273.7" x2="359.6" y2="273.7" stroke="#333" stroke-width="1.1"/>
<path d="M319.9,273.7L324.9,271V276.4Z M364.1,273.7L359.1,271V276.4Z" fill="#2a2a2a"/>
<text x="236.25" y="269.4" font-size="9.8" text-anchor="middle" class="t">E</text>
<text x="261.45" y="269.4" font-size="9.8" text-anchor="middle" class="t">PF</text>
<text x="297.6" y="269.4" font-size="9.8" text-anchor="middle" class="t">F</text>
<text x="342.9" y="269.4" font-size="9.8" text-anchor="middle" class="t">OF</text>
<line x1="171.55" y1="258.2" x2="171.55" y2="425.36" stroke="#666666" stroke-width="1.1"/>
<line x1="168.35" y1="425.36" x2="171.55" y2="425.36" stroke="#666666" stroke-width="0.9"/>
<text x="165.65" y="428.26" font-size="7.6" text-anchor="end" class="t">0.00</text>
<line x1="169.95" y1="418.41" x2="171.55" y2="418.41" stroke="#666666" stroke-width="0.9"/>
<line x1="169.95" y1="411.46" x2="171.55" y2="411.46" stroke="#666666" stroke-width="0.9"/>
<line x1="169.95" y1="404.51" x2="171.55" y2="404.51" stroke="#666666" stroke-width="0.9"/>
<line x1="169.95" y1="397.56" x2="171.55" y2="397.56" stroke="#666666" stroke-width="0.9"/>
<line x1="168.35" y1="390.61" x2="171.55" y2="390.61" stroke="#666666" stroke-width="0.9"/>
<text x="165.65" y="393.51" font-size="7.6" text-anchor="end" class="t">0.02</text>
<line x1="169.95" y1="383.66" x2="171.55" y2="383.66" stroke="#666666" stroke-width="0.9"/>
<line x1="169.95" y1="376.71" x2="171.55" y2="376.71" stroke="#666666" stroke-width="0.9"/>
<line x1="169.95" y1="369.76" x2="171.55" y2="369.76" stroke="#666666" stroke-width="0.9"/>
<line x1="169.95" y1="362.81" x2="171.55" y2="362.81" stroke="#666666" stroke-width="0.9"/>
<line x1="168.35" y1="355.86" x2="171.55" y2="355.86" stroke="#666666" stroke-width="0.9"/>
<text x="165.65" y="358.76" font-size="7.6" text-anchor="end" class="t">0.04</text>
<line x1="169.95" y1="348.91" x2="171.55" y2="348.91" stroke="#666666" stroke-width="0.9"/>
<line x1="169.95" y1="341.96" x2="171.55" y2="341.96" stroke="#666666" stroke-width="0.9"/>
<line x1="169.95" y1="335" x2="171.55" y2="335" stroke="#666666" stroke-width="0.9"/>
<line x1="169.95" y1="328.05" x2="171.55" y2="328.05" stroke="#666666" stroke-width="0.9"/>
<line x1="168.35" y1="321.1" x2="171.55" y2="321.1" stroke="#666666" stroke-width="0.9"/>
<text x="165.65" y="324" font-size="7.6" text-anchor="end" class="t">0.06</text>
<line x1="169.95" y1="314.15" x2="171.55" y2="314.15" stroke="#666666" stroke-width="0.9"/>
<line x1="169.95" y1="307.2" x2="171.55" y2="307.2" stroke="#666666" stroke-width="0.9"/>
<line x1="169.95" y1="300.25" x2="171.55" y2="300.25" stroke="#666666" stroke-width="0.9"/>
<line x1="169.95" y1="293.3" x2="171.55" y2="293.3" stroke="#666666" stroke-width="0.9"/>
<line x1="168.35" y1="286.35" x2="171.55" y2="286.35" stroke="#666666" stroke-width="0.9"/>
<text x="165.65" y="289.25" font-size="7.6" text-anchor="end" class="t">0.08</text>
<line x1="169.95" y1="279.4" x2="171.55" y2="279.4" stroke="#666666" stroke-width="0.9"/>
<line x1="169.95" y1="272.45" x2="171.55" y2="272.45" stroke="#666666" stroke-width="0.9"/>
<line x1="169.95" y1="265.5" x2="171.55" y2="265.5" stroke="#666666" stroke-width="0.9"/>
<line x1="169.95" y1="258.55" x2="171.55" y2="258.55" stroke="#666666" stroke-width="0.9"/>
<line x1="175.42" y1="425.36" x2="175.42" y2="426.96" stroke="#666666" stroke-width="0.9"/>
<line x1="187.03" y1="425.36" x2="187.03" y2="426.96" stroke="#666666" stroke-width="0.9"/>
<line x1="198.64" y1="425.36" x2="198.64" y2="426.96" stroke="#666666" stroke-width="0.9"/>
<line x1="210.25" y1="425.36" x2="210.25" y2="428.36" stroke="#666666" stroke-width="0.9"/>
<text x="210.25" y="436.76" font-size="7.6" text-anchor="middle" class="t" textLength="14.6" lengthAdjust="spacingAndGlyphs">3000</text>
<line x1="221.86" y1="425.36" x2="221.86" y2="426.96" stroke="#666666" stroke-width="0.9"/>
<line x1="233.47" y1="425.36" x2="233.47" y2="426.96" stroke="#666666" stroke-width="0.9"/>
<line x1="245.08" y1="425.36" x2="245.08" y2="426.96" stroke="#666666" stroke-width="0.9"/>
<line x1="256.69" y1="425.36" x2="256.69" y2="426.96" stroke="#666666" stroke-width="0.9"/>
<line x1="268.3" y1="425.36" x2="268.3" y2="428.36" stroke="#666666" stroke-width="0.9"/>
<text x="268.3" y="436.76" font-size="7.6" text-anchor="middle" class="t" textLength="14.6" lengthAdjust="spacingAndGlyphs">4500</text>
<line x1="279.91" y1="425.36" x2="279.91" y2="426.96" stroke="#666666" stroke-width="0.9"/>
<line x1="291.52" y1="425.36" x2="291.52" y2="426.96" stroke="#666666" stroke-width="0.9"/>
<line x1="303.13" y1="425.36" x2="303.13" y2="426.96" stroke="#666666" stroke-width="0.9"/>
<line x1="314.74" y1="425.36" x2="314.74" y2="426.96" stroke="#666666" stroke-width="0.9"/>
<line x1="326.35" y1="425.36" x2="326.35" y2="428.36" stroke="#666666" stroke-width="0.9"/>
<text x="326.35" y="436.76" font-size="7.6" text-anchor="middle" class="t" textLength="14.6" lengthAdjust="spacingAndGlyphs">6000</text>
<line x1="337.96" y1="425.36" x2="337.96" y2="426.96" stroke="#666666" stroke-width="0.9"/>
<line x1="349.57" y1="425.36" x2="349.57" y2="426.96" stroke="#666666" stroke-width="0.9"/>
<line x1="361.18" y1="425.36" x2="361.18" y2="426.96" stroke="#666666" stroke-width="0.9"/>
<line x1="372.79" y1="425.36" x2="372.79" y2="426.96" stroke="#666666" stroke-width="0.9"/>
<line x1="384.4" y1="425.36" x2="384.4" y2="428.36" stroke="#666666" stroke-width="0.9"/>
<text x="384.4" y="436.76" font-size="7.6" text-anchor="middle" class="t" textLength="14.6" lengthAdjust="spacingAndGlyphs">7500</text>
<line x1="396.01" y1="425.36" x2="396.01" y2="426.96" stroke="#666666" stroke-width="0.9"/>
<text x="281.9" y="449.2" font-size="8.2" text-anchor="middle" class="t" textLength="39.7" lengthAdjust="spacingAndGlyphs">Mass / kDa</text>
<text transform="translate(147.2,341.58) rotate(-90)" font-size="8.2" text-anchor="middle" class="t" textLength="64.5" lengthAdjust="spacingAndGlyphs">Normalised counts</text>
<text x="288.2" y="253.3" font-size="15.6" text-anchor="middle" class="tt" textLength="40.3" lengthAdjust="spacingAndGlyphs">AAV9</text>
<text x="272.9" y="470.3" font-size="11" text-anchor="middle" class="t">(<tspan font-weight="bold">c</tspan>)</text>
</svg>
</body></html>
